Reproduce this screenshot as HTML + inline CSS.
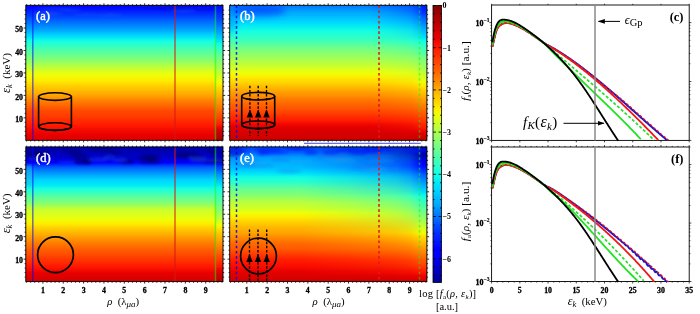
<!DOCTYPE html><html><head><meta charset="utf-8"><style>html,body{margin:0;padding:0;background:#fff;width:700px;height:314px;overflow:hidden}svg{display:block}text{font-family:"Liberation Serif",serif}.i{font-style:italic}</style></head><body><svg width="700" height="314" viewBox="0 0 700 314"><defs><linearGradient id="ga" x1="0" y1="0" x2="0" y2="1"><stop offset="0.000" stop-color="#0004ff"/><stop offset="0.015" stop-color="#0008ff"/><stop offset="0.030" stop-color="#0010ff"/><stop offset="0.044" stop-color="#0020ff"/><stop offset="0.059" stop-color="#002cff"/><stop offset="0.074" stop-color="#0038ff"/><stop offset="0.089" stop-color="#0048ff"/><stop offset="0.104" stop-color="#0058ff"/><stop offset="0.119" stop-color="#0068ff"/><stop offset="0.133" stop-color="#0074ff"/><stop offset="0.148" stop-color="#0084ff"/><stop offset="0.163" stop-color="#0090ff"/><stop offset="0.178" stop-color="#00a0ff"/><stop offset="0.193" stop-color="#00b0ff"/><stop offset="0.207" stop-color="#00c4ff"/><stop offset="0.222" stop-color="#00d4ff"/><stop offset="0.237" stop-color="#00e4f8"/><stop offset="0.252" stop-color="#0cf4eb"/><stop offset="0.267" stop-color="#16ffe1"/><stop offset="0.281" stop-color="#23ffd4"/><stop offset="0.296" stop-color="#2cffca"/><stop offset="0.311" stop-color="#3cffba"/><stop offset="0.326" stop-color="#49ffad"/><stop offset="0.341" stop-color="#56ffa0"/><stop offset="0.356" stop-color="#5dff9a"/><stop offset="0.370" stop-color="#6aff8d"/><stop offset="0.385" stop-color="#77ff80"/><stop offset="0.400" stop-color="#83ff73"/><stop offset="0.415" stop-color="#90ff66"/><stop offset="0.430" stop-color="#a0ff56"/><stop offset="0.444" stop-color="#adff49"/><stop offset="0.459" stop-color="#beff39"/><stop offset="0.474" stop-color="#caff2c"/><stop offset="0.489" stop-color="#dbff1c"/><stop offset="0.504" stop-color="#e7ff0f"/><stop offset="0.519" stop-color="#eeff09"/><stop offset="0.533" stop-color="#f4f802"/><stop offset="0.548" stop-color="#fbf100"/><stop offset="0.563" stop-color="#ffea00"/><stop offset="0.578" stop-color="#ffde00"/><stop offset="0.593" stop-color="#ffd300"/><stop offset="0.607" stop-color="#ffc800"/><stop offset="0.622" stop-color="#ffc100"/><stop offset="0.637" stop-color="#ffb600"/><stop offset="0.652" stop-color="#ffae00"/><stop offset="0.667" stop-color="#ffa300"/><stop offset="0.681" stop-color="#ff9800"/><stop offset="0.696" stop-color="#ff8900"/><stop offset="0.711" stop-color="#ff7e00"/><stop offset="0.726" stop-color="#ff7300"/><stop offset="0.741" stop-color="#ff6800"/><stop offset="0.756" stop-color="#ff5d00"/><stop offset="0.770" stop-color="#ff5200"/><stop offset="0.785" stop-color="#ff4700"/><stop offset="0.800" stop-color="#ff4300"/><stop offset="0.815" stop-color="#ff3f00"/><stop offset="0.830" stop-color="#ff3800"/><stop offset="0.844" stop-color="#ff3000"/><stop offset="0.859" stop-color="#ff2900"/><stop offset="0.874" stop-color="#ff2200"/><stop offset="0.889" stop-color="#ff1a00"/><stop offset="0.904" stop-color="#ff1300"/><stop offset="0.919" stop-color="#f60b00"/><stop offset="0.933" stop-color="#f10800"/><stop offset="0.948" stop-color="#ed0400"/><stop offset="0.963" stop-color="#e80000"/><stop offset="0.978" stop-color="#e40000"/><stop offset="0.993" stop-color="#e40000"/></linearGradient><linearGradient id="gb" x1="0" y1="0" x2="0" y2="1"><stop offset="0.000" stop-color="#007cff"/><stop offset="0.015" stop-color="#0084ff"/><stop offset="0.030" stop-color="#0094ff"/><stop offset="0.044" stop-color="#00a0ff"/><stop offset="0.059" stop-color="#00acff"/><stop offset="0.074" stop-color="#00b4ff"/><stop offset="0.089" stop-color="#00c0ff"/><stop offset="0.104" stop-color="#00c8ff"/><stop offset="0.119" stop-color="#00d4ff"/><stop offset="0.133" stop-color="#00dcfe"/><stop offset="0.148" stop-color="#02e8f4"/><stop offset="0.163" stop-color="#09f0ee"/><stop offset="0.178" stop-color="#0ff8e7"/><stop offset="0.193" stop-color="#16ffe1"/><stop offset="0.207" stop-color="#1fffd7"/><stop offset="0.222" stop-color="#26ffd1"/><stop offset="0.237" stop-color="#30ffc7"/><stop offset="0.252" stop-color="#36ffc1"/><stop offset="0.267" stop-color="#43ffb4"/><stop offset="0.281" stop-color="#50ffa7"/><stop offset="0.296" stop-color="#5dff9a"/><stop offset="0.311" stop-color="#6aff8d"/><stop offset="0.326" stop-color="#77ff80"/><stop offset="0.341" stop-color="#80ff77"/><stop offset="0.356" stop-color="#8aff6d"/><stop offset="0.370" stop-color="#94ff63"/><stop offset="0.385" stop-color="#9dff5a"/><stop offset="0.400" stop-color="#a7ff50"/><stop offset="0.415" stop-color="#b1ff46"/><stop offset="0.430" stop-color="#baff3c"/><stop offset="0.444" stop-color="#c4ff33"/><stop offset="0.459" stop-color="#d1ff26"/><stop offset="0.474" stop-color="#deff19"/><stop offset="0.489" stop-color="#e4ff13"/><stop offset="0.504" stop-color="#eeff09"/><stop offset="0.519" stop-color="#f8f500"/><stop offset="0.533" stop-color="#feed00"/><stop offset="0.548" stop-color="#ffe200"/><stop offset="0.563" stop-color="#ffdb00"/><stop offset="0.578" stop-color="#ffd000"/><stop offset="0.593" stop-color="#ffc400"/><stop offset="0.607" stop-color="#ffb900"/><stop offset="0.622" stop-color="#ffae00"/><stop offset="0.637" stop-color="#ffa300"/><stop offset="0.652" stop-color="#ff9800"/><stop offset="0.667" stop-color="#ff9100"/><stop offset="0.681" stop-color="#ff8600"/><stop offset="0.696" stop-color="#ff7a00"/><stop offset="0.711" stop-color="#ff7300"/><stop offset="0.726" stop-color="#ff6800"/><stop offset="0.741" stop-color="#ff6000"/><stop offset="0.756" stop-color="#ff5900"/><stop offset="0.770" stop-color="#ff5200"/><stop offset="0.785" stop-color="#ff4700"/><stop offset="0.800" stop-color="#ff3f00"/><stop offset="0.815" stop-color="#ff3400"/><stop offset="0.830" stop-color="#ff2900"/><stop offset="0.844" stop-color="#ff2200"/><stop offset="0.859" stop-color="#ff1600"/><stop offset="0.874" stop-color="#f60b00"/><stop offset="0.889" stop-color="#ed0400"/><stop offset="0.904" stop-color="#e40000"/><stop offset="0.919" stop-color="#df0000"/><stop offset="0.933" stop-color="#da0000"/><stop offset="0.948" stop-color="#d60000"/><stop offset="0.963" stop-color="#d60000"/><stop offset="0.978" stop-color="#d10000"/><stop offset="0.993" stop-color="#d10000"/></linearGradient><linearGradient id="gd" x1="0" y1="0" x2="0" y2="1"><stop offset="0.000" stop-color="#0000ad"/><stop offset="0.015" stop-color="#0000ad"/><stop offset="0.030" stop-color="#0000b2"/><stop offset="0.045" stop-color="#0000bb"/><stop offset="0.059" stop-color="#0000bf"/><stop offset="0.074" stop-color="#0000c8"/><stop offset="0.089" stop-color="#0000d6"/><stop offset="0.104" stop-color="#0000e8"/><stop offset="0.119" stop-color="#0000ff"/><stop offset="0.134" stop-color="#0030ff"/><stop offset="0.148" stop-color="#0054ff"/><stop offset="0.163" stop-color="#006cff"/><stop offset="0.178" stop-color="#0080ff"/><stop offset="0.193" stop-color="#0094ff"/><stop offset="0.208" stop-color="#00a8ff"/><stop offset="0.223" stop-color="#00b8ff"/><stop offset="0.238" stop-color="#00ccff"/><stop offset="0.252" stop-color="#00d8ff"/><stop offset="0.267" stop-color="#00e0fb"/><stop offset="0.282" stop-color="#02e8f4"/><stop offset="0.297" stop-color="#0cf4eb"/><stop offset="0.312" stop-color="#19ffde"/><stop offset="0.327" stop-color="#29ffce"/><stop offset="0.341" stop-color="#39ffbe"/><stop offset="0.356" stop-color="#49ffad"/><stop offset="0.371" stop-color="#5aff9d"/><stop offset="0.386" stop-color="#6aff8d"/><stop offset="0.401" stop-color="#73ff83"/><stop offset="0.416" stop-color="#83ff73"/><stop offset="0.431" stop-color="#9aff5d"/><stop offset="0.445" stop-color="#adff49"/><stop offset="0.460" stop-color="#c4ff33"/><stop offset="0.475" stop-color="#d1ff26"/><stop offset="0.490" stop-color="#d4ff23"/><stop offset="0.505" stop-color="#dbff1c"/><stop offset="0.520" stop-color="#e4ff13"/><stop offset="0.535" stop-color="#ebff0c"/><stop offset="0.549" stop-color="#f4f802"/><stop offset="0.564" stop-color="#fbf100"/><stop offset="0.579" stop-color="#ffe600"/><stop offset="0.594" stop-color="#ffd700"/><stop offset="0.609" stop-color="#ffcc00"/><stop offset="0.624" stop-color="#ffc100"/><stop offset="0.638" stop-color="#ffb600"/><stop offset="0.653" stop-color="#ffab00"/><stop offset="0.668" stop-color="#ff9f00"/><stop offset="0.683" stop-color="#ff9400"/><stop offset="0.698" stop-color="#ff8900"/><stop offset="0.713" stop-color="#ff7e00"/><stop offset="0.728" stop-color="#ff7300"/><stop offset="0.742" stop-color="#ff6c00"/><stop offset="0.757" stop-color="#ff6000"/><stop offset="0.772" stop-color="#ff5900"/><stop offset="0.787" stop-color="#ff5200"/><stop offset="0.802" stop-color="#ff4a00"/><stop offset="0.817" stop-color="#ff3f00"/><stop offset="0.831" stop-color="#ff3800"/><stop offset="0.846" stop-color="#ff3000"/><stop offset="0.861" stop-color="#ff2900"/><stop offset="0.876" stop-color="#ff1e00"/><stop offset="0.891" stop-color="#ff1600"/><stop offset="0.906" stop-color="#fa0f00"/><stop offset="0.921" stop-color="#f10800"/><stop offset="0.935" stop-color="#e80000"/><stop offset="0.950" stop-color="#e40000"/><stop offset="0.965" stop-color="#df0000"/><stop offset="0.980" stop-color="#da0000"/><stop offset="0.995" stop-color="#d60000"/></linearGradient><linearGradient id="ge" x1="0" y1="0" x2="0" y2="1"><stop offset="0.000" stop-color="#004cff"/><stop offset="0.015" stop-color="#0054ff"/><stop offset="0.030" stop-color="#0060ff"/><stop offset="0.045" stop-color="#006cff"/><stop offset="0.059" stop-color="#0080ff"/><stop offset="0.074" stop-color="#0098ff"/><stop offset="0.089" stop-color="#00a4ff"/><stop offset="0.104" stop-color="#00a8ff"/><stop offset="0.119" stop-color="#00b0ff"/><stop offset="0.134" stop-color="#00b4ff"/><stop offset="0.148" stop-color="#00b8ff"/><stop offset="0.163" stop-color="#00c4ff"/><stop offset="0.178" stop-color="#00d0ff"/><stop offset="0.193" stop-color="#00e0fb"/><stop offset="0.208" stop-color="#06ecf1"/><stop offset="0.223" stop-color="#13fce4"/><stop offset="0.238" stop-color="#1cffdb"/><stop offset="0.252" stop-color="#23ffd4"/><stop offset="0.267" stop-color="#30ffc7"/><stop offset="0.282" stop-color="#43ffb4"/><stop offset="0.297" stop-color="#53ffa4"/><stop offset="0.312" stop-color="#63ff94"/><stop offset="0.327" stop-color="#70ff87"/><stop offset="0.341" stop-color="#77ff80"/><stop offset="0.356" stop-color="#83ff73"/><stop offset="0.371" stop-color="#94ff63"/><stop offset="0.386" stop-color="#a0ff56"/><stop offset="0.401" stop-color="#b1ff46"/><stop offset="0.416" stop-color="#beff39"/><stop offset="0.431" stop-color="#c4ff33"/><stop offset="0.445" stop-color="#caff2c"/><stop offset="0.460" stop-color="#d7ff1f"/><stop offset="0.475" stop-color="#e1ff16"/><stop offset="0.490" stop-color="#eeff09"/><stop offset="0.505" stop-color="#f8f500"/><stop offset="0.520" stop-color="#feed00"/><stop offset="0.535" stop-color="#ffe200"/><stop offset="0.549" stop-color="#ffd700"/><stop offset="0.564" stop-color="#ffcc00"/><stop offset="0.579" stop-color="#ffc400"/><stop offset="0.594" stop-color="#ffb900"/><stop offset="0.609" stop-color="#ffb200"/><stop offset="0.624" stop-color="#ffab00"/><stop offset="0.638" stop-color="#ffa300"/><stop offset="0.653" stop-color="#ff9800"/><stop offset="0.668" stop-color="#ff8d00"/><stop offset="0.683" stop-color="#ff8200"/><stop offset="0.698" stop-color="#ff7700"/><stop offset="0.713" stop-color="#ff6c00"/><stop offset="0.728" stop-color="#ff6400"/><stop offset="0.742" stop-color="#ff6000"/><stop offset="0.757" stop-color="#ff5900"/><stop offset="0.772" stop-color="#ff4e00"/><stop offset="0.787" stop-color="#ff4300"/><stop offset="0.802" stop-color="#ff3800"/><stop offset="0.817" stop-color="#ff2d00"/><stop offset="0.831" stop-color="#ff2200"/><stop offset="0.846" stop-color="#ff1a00"/><stop offset="0.861" stop-color="#ff1300"/><stop offset="0.876" stop-color="#fa0f00"/><stop offset="0.891" stop-color="#f60b00"/><stop offset="0.906" stop-color="#f10800"/><stop offset="0.921" stop-color="#e80000"/><stop offset="0.935" stop-color="#e40000"/><stop offset="0.950" stop-color="#df0000"/><stop offset="0.965" stop-color="#da0000"/><stop offset="0.980" stop-color="#d60000"/><stop offset="0.995" stop-color="#d10000"/></linearGradient><linearGradient id="ha" x1="0" y1="0" x2="0" y2="1"><stop offset="0.000" stop-color="#0004ff"/><stop offset="0.015" stop-color="#0010ff"/><stop offset="0.030" stop-color="#0018ff"/><stop offset="0.044" stop-color="#0020ff"/><stop offset="0.059" stop-color="#002cff"/><stop offset="0.074" stop-color="#0034ff"/><stop offset="0.089" stop-color="#003cff"/><stop offset="0.104" stop-color="#0048ff"/><stop offset="0.119" stop-color="#0054ff"/><stop offset="0.133" stop-color="#0064ff"/><stop offset="0.148" stop-color="#0070ff"/><stop offset="0.163" stop-color="#0080ff"/><stop offset="0.178" stop-color="#008cff"/><stop offset="0.193" stop-color="#009cff"/><stop offset="0.207" stop-color="#00acff"/><stop offset="0.222" stop-color="#00bcff"/><stop offset="0.237" stop-color="#00c8ff"/><stop offset="0.252" stop-color="#00d8ff"/><stop offset="0.267" stop-color="#02e8f4"/><stop offset="0.281" stop-color="#0ff8e7"/><stop offset="0.296" stop-color="#19ffde"/><stop offset="0.311" stop-color="#26ffd1"/><stop offset="0.326" stop-color="#36ffc1"/><stop offset="0.341" stop-color="#43ffb4"/><stop offset="0.356" stop-color="#50ffa7"/><stop offset="0.370" stop-color="#5dff9a"/><stop offset="0.385" stop-color="#6aff8d"/><stop offset="0.400" stop-color="#77ff80"/><stop offset="0.415" stop-color="#83ff73"/><stop offset="0.430" stop-color="#8dff6a"/><stop offset="0.444" stop-color="#9aff5d"/><stop offset="0.459" stop-color="#a4ff53"/><stop offset="0.474" stop-color="#adff49"/><stop offset="0.489" stop-color="#baff3c"/><stop offset="0.504" stop-color="#c4ff33"/><stop offset="0.519" stop-color="#d1ff26"/><stop offset="0.533" stop-color="#dbff1c"/><stop offset="0.548" stop-color="#e4ff13"/><stop offset="0.563" stop-color="#eeff09"/><stop offset="0.578" stop-color="#f8f500"/><stop offset="0.593" stop-color="#ffea00"/><stop offset="0.607" stop-color="#ffde00"/><stop offset="0.622" stop-color="#ffd300"/><stop offset="0.637" stop-color="#ffc800"/><stop offset="0.652" stop-color="#ffbd00"/><stop offset="0.667" stop-color="#ffb600"/><stop offset="0.681" stop-color="#ffab00"/><stop offset="0.696" stop-color="#ff9f00"/><stop offset="0.711" stop-color="#ff9400"/><stop offset="0.726" stop-color="#ff8d00"/><stop offset="0.741" stop-color="#ff8200"/><stop offset="0.756" stop-color="#ff7700"/><stop offset="0.770" stop-color="#ff6f00"/><stop offset="0.785" stop-color="#ff6400"/><stop offset="0.800" stop-color="#ff5900"/><stop offset="0.815" stop-color="#ff4e00"/><stop offset="0.830" stop-color="#ff4700"/><stop offset="0.844" stop-color="#ff3b00"/><stop offset="0.859" stop-color="#ff2d00"/><stop offset="0.874" stop-color="#ff2200"/><stop offset="0.889" stop-color="#ff1300"/><stop offset="0.904" stop-color="#ed0400"/><stop offset="0.919" stop-color="#da0000"/><stop offset="0.933" stop-color="#c80000"/><stop offset="0.948" stop-color="#bf0000"/><stop offset="0.963" stop-color="#bb0000"/><stop offset="0.978" stop-color="#b60000"/><stop offset="0.993" stop-color="#ad0000"/></linearGradient><linearGradient id="hb" x1="0" y1="0" x2="0" y2="1"><stop offset="0.000" stop-color="#0018ff"/><stop offset="0.015" stop-color="#001cff"/><stop offset="0.030" stop-color="#0024ff"/><stop offset="0.044" stop-color="#0028ff"/><stop offset="0.059" stop-color="#0038ff"/><stop offset="0.074" stop-color="#0048ff"/><stop offset="0.089" stop-color="#0058ff"/><stop offset="0.104" stop-color="#0068ff"/><stop offset="0.119" stop-color="#0078ff"/><stop offset="0.133" stop-color="#0084ff"/><stop offset="0.148" stop-color="#0094ff"/><stop offset="0.163" stop-color="#00a0ff"/><stop offset="0.178" stop-color="#00b0ff"/><stop offset="0.193" stop-color="#00bcff"/><stop offset="0.207" stop-color="#00c8ff"/><stop offset="0.222" stop-color="#00d4ff"/><stop offset="0.237" stop-color="#00e0fb"/><stop offset="0.252" stop-color="#09f0ee"/><stop offset="0.267" stop-color="#13fce4"/><stop offset="0.281" stop-color="#1cffdb"/><stop offset="0.296" stop-color="#29ffce"/><stop offset="0.311" stop-color="#36ffc1"/><stop offset="0.326" stop-color="#40ffb7"/><stop offset="0.341" stop-color="#4dffaa"/><stop offset="0.356" stop-color="#56ffa0"/><stop offset="0.370" stop-color="#63ff94"/><stop offset="0.385" stop-color="#70ff87"/><stop offset="0.400" stop-color="#7aff7d"/><stop offset="0.415" stop-color="#83ff73"/><stop offset="0.430" stop-color="#8dff6a"/><stop offset="0.444" stop-color="#97ff60"/><stop offset="0.459" stop-color="#a0ff56"/><stop offset="0.474" stop-color="#adff49"/><stop offset="0.489" stop-color="#b7ff40"/><stop offset="0.504" stop-color="#c1ff36"/><stop offset="0.519" stop-color="#caff2c"/><stop offset="0.533" stop-color="#d4ff23"/><stop offset="0.548" stop-color="#deff19"/><stop offset="0.563" stop-color="#ebff0c"/><stop offset="0.578" stop-color="#f4f802"/><stop offset="0.593" stop-color="#feed00"/><stop offset="0.607" stop-color="#ffe200"/><stop offset="0.622" stop-color="#ffd700"/><stop offset="0.637" stop-color="#ffc800"/><stop offset="0.652" stop-color="#ffc100"/><stop offset="0.667" stop-color="#ffb600"/><stop offset="0.681" stop-color="#ffab00"/><stop offset="0.696" stop-color="#ff9f00"/><stop offset="0.711" stop-color="#ff9800"/><stop offset="0.726" stop-color="#ff8d00"/><stop offset="0.741" stop-color="#ff8200"/><stop offset="0.756" stop-color="#ff7a00"/><stop offset="0.770" stop-color="#ff6f00"/><stop offset="0.785" stop-color="#ff6400"/><stop offset="0.800" stop-color="#ff5d00"/><stop offset="0.815" stop-color="#ff5200"/><stop offset="0.830" stop-color="#ff4a00"/><stop offset="0.844" stop-color="#ff3f00"/><stop offset="0.859" stop-color="#ff3800"/><stop offset="0.874" stop-color="#ff2d00"/><stop offset="0.889" stop-color="#ff2200"/><stop offset="0.904" stop-color="#ff1a00"/><stop offset="0.919" stop-color="#fa0f00"/><stop offset="0.933" stop-color="#ed0400"/><stop offset="0.948" stop-color="#df0000"/><stop offset="0.963" stop-color="#d60000"/><stop offset="0.978" stop-color="#cd0000"/><stop offset="0.993" stop-color="#c80000"/></linearGradient><linearGradient id="hd" x1="0" y1="0" x2="0" y2="1"><stop offset="0.000" stop-color="#0000bb"/><stop offset="0.015" stop-color="#0000bf"/><stop offset="0.030" stop-color="#0000c4"/><stop offset="0.045" stop-color="#0000c8"/><stop offset="0.059" stop-color="#0000cd"/><stop offset="0.074" stop-color="#0000e3"/><stop offset="0.089" stop-color="#0000f6"/><stop offset="0.104" stop-color="#0000ff"/><stop offset="0.119" stop-color="#000cff"/><stop offset="0.134" stop-color="#0020ff"/><stop offset="0.148" stop-color="#0038ff"/><stop offset="0.163" stop-color="#0050ff"/><stop offset="0.178" stop-color="#0064ff"/><stop offset="0.193" stop-color="#007cff"/><stop offset="0.208" stop-color="#0090ff"/><stop offset="0.223" stop-color="#00a4ff"/><stop offset="0.238" stop-color="#00b4ff"/><stop offset="0.252" stop-color="#00c4ff"/><stop offset="0.267" stop-color="#00d4ff"/><stop offset="0.282" stop-color="#00e4f8"/><stop offset="0.297" stop-color="#0cf4eb"/><stop offset="0.312" stop-color="#16ffe1"/><stop offset="0.327" stop-color="#23ffd4"/><stop offset="0.341" stop-color="#2cffca"/><stop offset="0.356" stop-color="#36ffc1"/><stop offset="0.371" stop-color="#43ffb4"/><stop offset="0.386" stop-color="#4dffaa"/><stop offset="0.401" stop-color="#56ffa0"/><stop offset="0.416" stop-color="#63ff94"/><stop offset="0.431" stop-color="#6dff8a"/><stop offset="0.445" stop-color="#7aff7d"/><stop offset="0.460" stop-color="#83ff73"/><stop offset="0.475" stop-color="#90ff66"/><stop offset="0.490" stop-color="#9aff5d"/><stop offset="0.505" stop-color="#a7ff50"/><stop offset="0.520" stop-color="#b4ff43"/><stop offset="0.535" stop-color="#c1ff36"/><stop offset="0.549" stop-color="#d1ff26"/><stop offset="0.564" stop-color="#deff19"/><stop offset="0.579" stop-color="#ebff0c"/><stop offset="0.594" stop-color="#fbf100"/><stop offset="0.609" stop-color="#ffe200"/><stop offset="0.624" stop-color="#ffd300"/><stop offset="0.638" stop-color="#ffc800"/><stop offset="0.653" stop-color="#ffbd00"/><stop offset="0.668" stop-color="#ffb200"/><stop offset="0.683" stop-color="#ffab00"/><stop offset="0.698" stop-color="#ff9f00"/><stop offset="0.713" stop-color="#ff9400"/><stop offset="0.728" stop-color="#ff8900"/><stop offset="0.742" stop-color="#ff7e00"/><stop offset="0.757" stop-color="#ff7300"/><stop offset="0.772" stop-color="#ff6800"/><stop offset="0.787" stop-color="#ff5d00"/><stop offset="0.802" stop-color="#ff5200"/><stop offset="0.817" stop-color="#ff4700"/><stop offset="0.831" stop-color="#ff3f00"/><stop offset="0.846" stop-color="#ff3400"/><stop offset="0.861" stop-color="#ff2900"/><stop offset="0.876" stop-color="#ff1e00"/><stop offset="0.891" stop-color="#ff1300"/><stop offset="0.906" stop-color="#f10800"/><stop offset="0.921" stop-color="#e40000"/><stop offset="0.935" stop-color="#d60000"/><stop offset="0.950" stop-color="#cd0000"/><stop offset="0.965" stop-color="#c80000"/><stop offset="0.980" stop-color="#bf0000"/><stop offset="0.995" stop-color="#bb0000"/></linearGradient><linearGradient id="he" x1="0" y1="0" x2="0" y2="1"><stop offset="0.000" stop-color="#0000ad"/><stop offset="0.015" stop-color="#0000ad"/><stop offset="0.030" stop-color="#0000ad"/><stop offset="0.045" stop-color="#0000b2"/><stop offset="0.059" stop-color="#0000b2"/><stop offset="0.074" stop-color="#0000bb"/><stop offset="0.089" stop-color="#0000cd"/><stop offset="0.104" stop-color="#0000df"/><stop offset="0.119" stop-color="#0000f6"/><stop offset="0.134" stop-color="#0000ff"/><stop offset="0.148" stop-color="#000cff"/><stop offset="0.163" stop-color="#0020ff"/><stop offset="0.178" stop-color="#0034ff"/><stop offset="0.193" stop-color="#0048ff"/><stop offset="0.208" stop-color="#0060ff"/><stop offset="0.223" stop-color="#006cff"/><stop offset="0.238" stop-color="#007cff"/><stop offset="0.252" stop-color="#008cff"/><stop offset="0.267" stop-color="#009cff"/><stop offset="0.282" stop-color="#00a8ff"/><stop offset="0.297" stop-color="#00b8ff"/><stop offset="0.312" stop-color="#00c8ff"/><stop offset="0.327" stop-color="#00d4ff"/><stop offset="0.341" stop-color="#00e4f8"/><stop offset="0.356" stop-color="#0cf4eb"/><stop offset="0.371" stop-color="#16ffe1"/><stop offset="0.386" stop-color="#23ffd4"/><stop offset="0.401" stop-color="#2cffca"/><stop offset="0.416" stop-color="#39ffbe"/><stop offset="0.431" stop-color="#46ffb1"/><stop offset="0.445" stop-color="#50ffa7"/><stop offset="0.460" stop-color="#5dff9a"/><stop offset="0.475" stop-color="#66ff90"/><stop offset="0.490" stop-color="#73ff83"/><stop offset="0.505" stop-color="#7dff7a"/><stop offset="0.520" stop-color="#8aff6d"/><stop offset="0.535" stop-color="#97ff60"/><stop offset="0.549" stop-color="#a4ff53"/><stop offset="0.564" stop-color="#b1ff46"/><stop offset="0.579" stop-color="#beff39"/><stop offset="0.594" stop-color="#caff2c"/><stop offset="0.609" stop-color="#d7ff1f"/><stop offset="0.624" stop-color="#e4ff13"/><stop offset="0.638" stop-color="#f1fc06"/><stop offset="0.653" stop-color="#feed00"/><stop offset="0.668" stop-color="#ffde00"/><stop offset="0.683" stop-color="#ffd300"/><stop offset="0.698" stop-color="#ffc800"/><stop offset="0.713" stop-color="#ffbd00"/><stop offset="0.728" stop-color="#ffb200"/><stop offset="0.742" stop-color="#ffa300"/><stop offset="0.757" stop-color="#ff9800"/><stop offset="0.772" stop-color="#ff8d00"/><stop offset="0.787" stop-color="#ff8200"/><stop offset="0.802" stop-color="#ff7700"/><stop offset="0.817" stop-color="#ff6c00"/><stop offset="0.831" stop-color="#ff6000"/><stop offset="0.846" stop-color="#ff5500"/><stop offset="0.861" stop-color="#ff4e00"/><stop offset="0.876" stop-color="#ff4300"/><stop offset="0.891" stop-color="#ff3800"/><stop offset="0.906" stop-color="#ff2900"/><stop offset="0.921" stop-color="#ff1e00"/><stop offset="0.935" stop-color="#ff1300"/><stop offset="0.950" stop-color="#f10800"/><stop offset="0.965" stop-color="#e80000"/><stop offset="0.980" stop-color="#df0000"/><stop offset="0.995" stop-color="#d60000"/></linearGradient><linearGradient id="rb" x1="0" y1="0" x2="1" y2="0"><stop offset="0.000" stop-color="#fff" stop-opacity="0.00"/><stop offset="0.474" stop-color="#fff" stop-opacity="0.24"/><stop offset="0.719" stop-color="#fff" stop-opacity="0.40"/><stop offset="0.842" stop-color="#fff" stop-opacity="0.65"/><stop offset="0.930" stop-color="#fff" stop-opacity="1.00"/><stop offset="1.000" stop-color="#fff" stop-opacity="1.00"/></linearGradient><mask id="mrb" maskContentUnits="objectBoundingBox"><rect x="0" y="0" width="1" height="1" fill="url(#rb)"/></mask><linearGradient id="re" x1="0" y1="0" x2="1" y2="0"><stop offset="0.000" stop-color="#fff" stop-opacity="0.00"/><stop offset="0.402" stop-color="#fff" stop-opacity="0.20"/><stop offset="0.638" stop-color="#fff" stop-opacity="0.35"/><stop offset="0.756" stop-color="#fff" stop-opacity="0.45"/><stop offset="0.866" stop-color="#fff" stop-opacity="0.62"/><stop offset="0.929" stop-color="#fff" stop-opacity="0.85"/><stop offset="0.969" stop-color="#fff" stop-opacity="1.00"/><stop offset="1.000" stop-color="#fff" stop-opacity="1.00"/></linearGradient><mask id="mre" maskContentUnits="objectBoundingBox"><rect x="0" y="0" width="1" height="1" fill="url(#re)"/></mask><linearGradient id="gcb" x1="0" y1="0" x2="0" y2="1"><stop offset="0.000" stop-color="#800000"/><stop offset="0.011" stop-color="#890000"/><stop offset="0.022" stop-color="#960000"/><stop offset="0.032" stop-color="#9f0000"/><stop offset="0.043" stop-color="#a80000"/><stop offset="0.054" stop-color="#b20000"/><stop offset="0.065" stop-color="#bb0000"/><stop offset="0.076" stop-color="#c40000"/><stop offset="0.087" stop-color="#cd0000"/><stop offset="0.097" stop-color="#d60000"/><stop offset="0.108" stop-color="#df0000"/><stop offset="0.119" stop-color="#e80000"/><stop offset="0.130" stop-color="#f10800"/><stop offset="0.141" stop-color="#fa0f00"/><stop offset="0.152" stop-color="#ff1600"/><stop offset="0.162" stop-color="#ff2200"/><stop offset="0.173" stop-color="#ff2900"/><stop offset="0.184" stop-color="#ff3400"/><stop offset="0.195" stop-color="#ff3f00"/><stop offset="0.206" stop-color="#ff4700"/><stop offset="0.217" stop-color="#ff5200"/><stop offset="0.227" stop-color="#ff5900"/><stop offset="0.238" stop-color="#ff6400"/><stop offset="0.249" stop-color="#ff6f00"/><stop offset="0.260" stop-color="#ff7a00"/><stop offset="0.271" stop-color="#ff8600"/><stop offset="0.282" stop-color="#ff9100"/><stop offset="0.292" stop-color="#ff9c00"/><stop offset="0.303" stop-color="#ffab00"/><stop offset="0.314" stop-color="#ffb600"/><stop offset="0.325" stop-color="#ffc100"/><stop offset="0.336" stop-color="#ffcc00"/><stop offset="0.347" stop-color="#ffd300"/><stop offset="0.357" stop-color="#ffde00"/><stop offset="0.368" stop-color="#ffea00"/><stop offset="0.379" stop-color="#fbf100"/><stop offset="0.390" stop-color="#f1fc06"/><stop offset="0.401" stop-color="#e7ff0f"/><stop offset="0.412" stop-color="#deff19"/><stop offset="0.422" stop-color="#d1ff26"/><stop offset="0.433" stop-color="#c4ff33"/><stop offset="0.444" stop-color="#b7ff40"/><stop offset="0.455" stop-color="#adff49"/><stop offset="0.466" stop-color="#a0ff56"/><stop offset="0.477" stop-color="#94ff63"/><stop offset="0.487" stop-color="#8aff6d"/><stop offset="0.498" stop-color="#7dff7a"/><stop offset="0.509" stop-color="#73ff83"/><stop offset="0.520" stop-color="#6aff8d"/><stop offset="0.531" stop-color="#5dff9a"/><stop offset="0.542" stop-color="#53ffa4"/><stop offset="0.552" stop-color="#49ffad"/><stop offset="0.563" stop-color="#3cffba"/><stop offset="0.574" stop-color="#33ffc4"/><stop offset="0.585" stop-color="#29ffce"/><stop offset="0.596" stop-color="#1fffd7"/><stop offset="0.606" stop-color="#16ffe1"/><stop offset="0.617" stop-color="#0ff8e7"/><stop offset="0.628" stop-color="#09f0ee"/><stop offset="0.639" stop-color="#02e8f4"/><stop offset="0.650" stop-color="#00e0fb"/><stop offset="0.661" stop-color="#00d8ff"/><stop offset="0.671" stop-color="#00d0ff"/><stop offset="0.682" stop-color="#00c8ff"/><stop offset="0.693" stop-color="#00bcff"/><stop offset="0.704" stop-color="#00b4ff"/><stop offset="0.715" stop-color="#00acff"/><stop offset="0.726" stop-color="#00a0ff"/><stop offset="0.736" stop-color="#0090ff"/><stop offset="0.747" stop-color="#0084ff"/><stop offset="0.758" stop-color="#0078ff"/><stop offset="0.769" stop-color="#006cff"/><stop offset="0.780" stop-color="#0060ff"/><stop offset="0.791" stop-color="#0050ff"/><stop offset="0.801" stop-color="#0044ff"/><stop offset="0.812" stop-color="#0038ff"/><stop offset="0.823" stop-color="#002cff"/><stop offset="0.834" stop-color="#0024ff"/><stop offset="0.845" stop-color="#001cff"/><stop offset="0.856" stop-color="#0014ff"/><stop offset="0.866" stop-color="#000cff"/><stop offset="0.877" stop-color="#0000ff"/><stop offset="0.888" stop-color="#0000ff"/><stop offset="0.899" stop-color="#0000ff"/><stop offset="0.910" stop-color="#0000f6"/><stop offset="0.921" stop-color="#0000ed"/><stop offset="0.931" stop-color="#0000df"/><stop offset="0.942" stop-color="#0000d1"/><stop offset="0.953" stop-color="#0000c4"/><stop offset="0.964" stop-color="#0000bb"/><stop offset="0.975" stop-color="#0000ad"/><stop offset="0.986" stop-color="#00009f"/><stop offset="0.996" stop-color="#00009b"/></linearGradient><marker id="ah" viewBox="0 0 10 10" refX="9" refY="5" markerWidth="7" markerHeight="7" markerUnits="userSpaceOnUse" orient="auto"><path d="M0 1.5L10 5L0 8.5z" fill="#000"/></marker></defs><rect x="25.8" y="5.3" width="197.2" height="135.0" fill="url(#ga)"/><rect x="216" y="5.3" width="7.0" height="135.0" fill="url(#ha)"/><rect x="229.7" y="5.3" width="197.2" height="135.0" fill="url(#gb)"/><rect x="370" y="5.3" width="56.9" height="135.0" fill="url(#hb)" mask="url(#mrb)"/><rect x="25.8" y="146.9" width="197.2" height="134.7" fill="url(#gd)"/><rect x="216" y="146.9" width="7.0" height="134.7" fill="url(#hd)"/><rect x="229.7" y="146.9" width="197.2" height="134.7" fill="url(#ge)"/><rect x="300" y="146.9" width="126.9" height="134.7" fill="url(#he)" mask="url(#mre)"/><filter id="bl" x="-50%" y="-50%" width="200%" height="200%"><feGaussianBlur stdDeviation="1.6"/></filter><filter id="bl2" x="-50%" y="-50%" width="200%" height="200%"><feGaussianBlur stdDeviation="3"/></filter><clipPath id="ca"><rect x="25.8" y="5.3" width="197.2" height="135.0"/></clipPath><clipPath id="cb"><rect x="229.7" y="5.3" width="197.2" height="135.0"/></clipPath><clipPath id="cd"><rect x="25.8" y="146.9" width="197.2" height="134.7"/></clipPath><clipPath id="ce"><rect x="229.7" y="146.9" width="197.2" height="134.7"/></clipPath><g clip-path="url(#cd)"><g filter="url(#bl)"><ellipse cx="150.0" cy="161.6" rx="11.2" ry="2.2" fill="#000070" opacity="0.60"/><ellipse cx="87.6" cy="161.2" rx="5.0" ry="3.2" fill="#000070" opacity="0.60"/><ellipse cx="183.0" cy="155.6" rx="7.4" ry="2.3" fill="#000070" opacity="0.60"/><ellipse cx="78.9" cy="155.2" rx="9.0" ry="2.7" fill="#000070" opacity="0.60"/><ellipse cx="221.1" cy="160.1" rx="10.0" ry="3.5" fill="#000070" opacity="0.60"/><ellipse cx="71.3" cy="151.2" rx="9.9" ry="1.9" fill="#000070" opacity="0.60"/><ellipse cx="36.9" cy="156.2" rx="8.7" ry="3.4" fill="#000070" opacity="0.60"/><ellipse cx="150.8" cy="156.2" rx="9.0" ry="2.2" fill="#000070" opacity="0.60"/><ellipse cx="32.3" cy="151.7" rx="10.5" ry="2.1" fill="#000070" opacity="0.60"/><ellipse cx="101.0" cy="149.1" rx="11.6" ry="2.1" fill="#000070" opacity="0.60"/><ellipse cx="81.4" cy="161.3" rx="9.1" ry="3.2" fill="#000070" opacity="0.60"/><ellipse cx="152.8" cy="159.4" rx="5.7" ry="2.7" fill="#000070" opacity="0.60"/><ellipse cx="127.5" cy="161.2" rx="7.9" ry="2.8" fill="#000070" opacity="0.60"/><ellipse cx="41.4" cy="154.4" rx="7.6" ry="2.1" fill="#000070" opacity="0.60"/><ellipse cx="186.7" cy="154.3" rx="12.8" ry="2.8" fill="#000070" opacity="0.60"/><ellipse cx="146.2" cy="157.9" rx="10.4" ry="2.1" fill="#000070" opacity="0.60"/><ellipse cx="114.5" cy="152.4" rx="8.2" ry="2.0" fill="#000070" opacity="0.60"/><ellipse cx="215.8" cy="152.0" rx="10.4" ry="2.3" fill="#000070" opacity="0.60"/><ellipse cx="197.8" cy="158.3" rx="6.1" ry="3.2" fill="#000070" opacity="0.60"/><ellipse cx="211.4" cy="161.7" rx="9.6" ry="2.0" fill="#000070" opacity="0.60"/><ellipse cx="67.0" cy="162.5" rx="9.3" ry="1.7" fill="#1a50f0" opacity="0.35"/><ellipse cx="199.7" cy="160.5" rx="9.4" ry="1.9" fill="#1a50f0" opacity="0.35"/><ellipse cx="108.9" cy="157.7" rx="6.2" ry="2.4" fill="#1a50f0" opacity="0.35"/><ellipse cx="119.8" cy="159.8" rx="7.9" ry="2.3" fill="#1a50f0" opacity="0.35"/><ellipse cx="34.8" cy="158.6" rx="6.2" ry="1.6" fill="#1a50f0" opacity="0.35"/><ellipse cx="215.7" cy="160.6" rx="8.6" ry="2.0" fill="#1a50f0" opacity="0.35"/><ellipse cx="197.6" cy="158.4" rx="9.5" ry="2.2" fill="#1a50f0" opacity="0.35"/><ellipse cx="98.2" cy="159.6" rx="10.6" ry="2.4" fill="#1a50f0" opacity="0.35"/><ellipse cx="29" cy="176" rx="5" ry="11" fill="#20b8f0" opacity="0.55"/></g></g><g clip-path="url(#ce)"><g filter="url(#bl)"><ellipse cx="234" cy="151" rx="10" ry="6" fill="#0010b8" opacity="0.6"/><ellipse cx="262.9" cy="152.6" rx="6.1" ry="2.6" fill="#0018f8" opacity="0.55"/><ellipse cx="384.9" cy="147.8" rx="10.2" ry="2.7" fill="#0018f8" opacity="0.55"/><ellipse cx="237.6" cy="150.8" rx="13.9" ry="2.3" fill="#0018f8" opacity="0.55"/><ellipse cx="369.3" cy="148.4" rx="8.0" ry="2.0" fill="#0018f8" opacity="0.55"/><ellipse cx="268.2" cy="149.1" rx="15.5" ry="2.4" fill="#0018f8" opacity="0.55"/><ellipse cx="297.9" cy="148.6" rx="15.5" ry="2.2" fill="#0018f8" opacity="0.55"/><ellipse cx="416.4" cy="150.1" rx="11.2" ry="2.8" fill="#0018f8" opacity="0.55"/><ellipse cx="372.4" cy="150.5" rx="10.3" ry="2.8" fill="#0018f8" opacity="0.55"/><ellipse cx="311.2" cy="152.5" rx="6.7" ry="2.1" fill="#0018f8" opacity="0.55"/><ellipse cx="331.1" cy="152.7" rx="8.5" ry="2.7" fill="#0018f8" opacity="0.55"/><ellipse cx="360.1" cy="151.3" rx="12.3" ry="3.0" fill="#0018f8" opacity="0.55"/><ellipse cx="296.5" cy="149.4" rx="8.0" ry="1.6" fill="#0018f8" opacity="0.55"/><ellipse cx="274.4" cy="152.5" rx="14.4" ry="1.7" fill="#0018f8" opacity="0.55"/><ellipse cx="346.7" cy="149.9" rx="11.9" ry="2.5" fill="#0018f8" opacity="0.55"/><ellipse cx="289.1" cy="171.3" rx="12.7" ry="2.0" fill="#1a70f0" opacity="0.35"/><ellipse cx="341.6" cy="158.1" rx="8.6" ry="1.7" fill="#1a70f0" opacity="0.35"/><ellipse cx="362.2" cy="168.9" rx="15.3" ry="1.3" fill="#1a70f0" opacity="0.35"/><ellipse cx="386.1" cy="168.6" rx="16.8" ry="1.9" fill="#1a70f0" opacity="0.35"/><ellipse cx="386.5" cy="155.8" rx="8.3" ry="1.2" fill="#1a70f0" opacity="0.35"/><ellipse cx="280.4" cy="159.2" rx="9.9" ry="1.9" fill="#1a70f0" opacity="0.35"/><ellipse cx="246.2" cy="165.0" rx="9.7" ry="2.1" fill="#1a70f0" opacity="0.35"/><ellipse cx="243.4" cy="160.3" rx="17.4" ry="1.9" fill="#1a70f0" opacity="0.35"/><ellipse cx="369.9" cy="166.2" rx="14.1" ry="1.4" fill="#1a70f0" opacity="0.35"/><ellipse cx="331.9" cy="155.7" rx="16.0" ry="2.4" fill="#1a70f0" opacity="0.35"/><ellipse cx="376.6" cy="155.9" rx="11.4" ry="1.6" fill="#1a70f0" opacity="0.35"/><ellipse cx="258.0" cy="165.7" rx="16.0" ry="1.6" fill="#1a70f0" opacity="0.35"/><ellipse cx="378.0" cy="169.2" rx="9.3" ry="2.2" fill="#20a8f0" opacity="0.25"/><ellipse cx="381.2" cy="160.8" rx="13.7" ry="2.0" fill="#20a8f0" opacity="0.25"/><ellipse cx="337.5" cy="159.3" rx="14.6" ry="2.0" fill="#20a8f0" opacity="0.25"/><ellipse cx="371.8" cy="169.2" rx="11.3" ry="2.1" fill="#20a8f0" opacity="0.25"/><ellipse cx="378.8" cy="170.5" rx="9.6" ry="1.2" fill="#20a8f0" opacity="0.25"/><ellipse cx="344.1" cy="161.0" rx="13.6" ry="2.4" fill="#20a8f0" opacity="0.25"/><ellipse cx="300.7" cy="161.5" rx="12.6" ry="2.1" fill="#20a8f0" opacity="0.25"/><ellipse cx="256.2" cy="163.3" rx="9.3" ry="2.1" fill="#20a8f0" opacity="0.25"/></g></g><g clip-path="url(#ca)"><g filter="url(#bl)"><ellipse cx="183.7" cy="11.0" rx="11.7" ry="1.7" fill="#1a5cf0" opacity="0.35"/><ellipse cx="69.8" cy="10.0" rx="11.3" ry="1.7" fill="#1a5cf0" opacity="0.35"/><ellipse cx="45.1" cy="14.0" rx="13.8" ry="1.5" fill="#1a5cf0" opacity="0.35"/><ellipse cx="44.3" cy="14.1" rx="9.3" ry="1.3" fill="#1a5cf0" opacity="0.35"/><ellipse cx="54.2" cy="8.7" rx="17.1" ry="1.5" fill="#1a5cf0" opacity="0.35"/><ellipse cx="86.7" cy="14.7" rx="14.2" ry="1.4" fill="#1a5cf0" opacity="0.35"/><ellipse cx="110.4" cy="15.1" rx="11.8" ry="1.9" fill="#1a5cf0" opacity="0.35"/><ellipse cx="47.9" cy="13.8" rx="15.8" ry="2.0" fill="#1a5cf0" opacity="0.35"/><ellipse cx="154.7" cy="6.5" rx="8.6" ry="1.7" fill="#0010c0" opacity="0.45"/><ellipse cx="170.1" cy="5.8" rx="10.7" ry="1.7" fill="#0010c0" opacity="0.45"/><ellipse cx="168.4" cy="8.6" rx="9.3" ry="1.4" fill="#0010c0" opacity="0.45"/><ellipse cx="177.9" cy="7.6" rx="15.2" ry="2.2" fill="#0010c0" opacity="0.45"/><ellipse cx="203.7" cy="8.4" rx="15.8" ry="1.6" fill="#0010c0" opacity="0.45"/><ellipse cx="148.6" cy="5.7" rx="15.6" ry="2.0" fill="#0010c0" opacity="0.45"/></g></g><g clip-path="url(#cb)"><g filter="url(#bl2)"><ellipse cx="258" cy="10" rx="28" ry="6" fill="#0040ff" opacity="0.7"/><ellipse cx="232" cy="20" rx="4" ry="14" fill="#0080ff" opacity="0.5"/></g></g><line x1="304" y1="143.3" x2="420.7" y2="143.3" stroke="#4848f0" stroke-width="1"/><line x1="32.8" y1="5.3" x2="32.8" y2="140.3" stroke="#0000ff" stroke-opacity="0.55" stroke-width="1.5"/><line x1="175" y1="5.3" x2="175" y2="140.3" stroke="#d81818" stroke-opacity="0.85" stroke-width="1.2"/><line x1="215.5" y1="5.3" x2="215.5" y2="140.3" stroke="#00ff00" stroke-opacity="0.5" stroke-width="1.5"/><line x1="32.8" y1="146.9" x2="32.8" y2="281.6" stroke="#0000ff" stroke-opacity="0.55" stroke-width="1.5"/><line x1="175" y1="146.9" x2="175" y2="281.6" stroke="#d81818" stroke-opacity="0.85" stroke-width="1.2"/><line x1="215.5" y1="146.9" x2="215.5" y2="281.6" stroke="#00ff00" stroke-opacity="0.5" stroke-width="1.5"/><line x1="236.5" y1="5.3" x2="236.5" y2="140.3" stroke="#0000ff" stroke-opacity="0.85" stroke-width="1.5" stroke-dasharray="2.6,2.6"/><line x1="379" y1="5.3" x2="379" y2="140.3" stroke="#e01c1c" stroke-opacity="1" stroke-width="1.6" stroke-dasharray="2.6,2.6"/><line x1="419.5" y1="5.3" x2="419.5" y2="140.3" stroke="#00ff00" stroke-opacity="0.5" stroke-width="1.5" stroke-dasharray="2.6,2.6"/><line x1="236.5" y1="146.9" x2="236.5" y2="281.6" stroke="#0000ff" stroke-opacity="0.85" stroke-width="1.5" stroke-dasharray="2.6,2.6"/><line x1="379" y1="146.9" x2="379" y2="281.6" stroke="#e01c1c" stroke-opacity="1" stroke-width="1.6" stroke-dasharray="2.6,2.6"/><line x1="419.5" y1="146.9" x2="419.5" y2="281.6" stroke="#00ff00" stroke-opacity="0.5" stroke-width="1.5" stroke-dasharray="2.6,2.6"/><rect x="25.8" y="5.3" width="197.2" height="135.0" fill="none" stroke="#000" stroke-width="0.9"/><path d="M26.62 140.30v1.20M26.62 5.30v-1.20M30.69 140.30v1.20M30.69 5.30v-1.20M34.76 140.30v1.20M34.76 5.30v-1.20M38.83 140.30v1.20M38.83 5.30v-1.20M42.90 140.30v2.00M42.90 5.30v-2.00M46.97 140.30v1.20M46.97 5.30v-1.20M51.04 140.30v1.20M51.04 5.30v-1.20M55.11 140.30v1.20M55.11 5.30v-1.20M59.18 140.30v1.20M59.18 5.30v-1.20M63.25 140.30v2.00M63.25 5.30v-2.00M67.32 140.30v1.20M67.32 5.30v-1.20M71.39 140.30v1.20M71.39 5.30v-1.20M75.46 140.30v1.20M75.46 5.30v-1.20M79.53 140.30v1.20M79.53 5.30v-1.20M83.60 140.30v2.00M83.60 5.30v-2.00M87.67 140.30v1.20M87.67 5.30v-1.20M91.74 140.30v1.20M91.74 5.30v-1.20M95.81 140.30v1.20M95.81 5.30v-1.20M99.88 140.30v1.20M99.88 5.30v-1.20M103.95 140.30v2.00M103.95 5.30v-2.00M108.02 140.30v1.20M108.02 5.30v-1.20M112.09 140.30v1.20M112.09 5.30v-1.20M116.16 140.30v1.20M116.16 5.30v-1.20M120.23 140.30v1.20M120.23 5.30v-1.20M124.30 140.30v2.00M124.30 5.30v-2.00M128.37 140.30v1.20M128.37 5.30v-1.20M132.44 140.30v1.20M132.44 5.30v-1.20M136.51 140.30v1.20M136.51 5.30v-1.20M140.58 140.30v1.20M140.58 5.30v-1.20M144.65 140.30v2.00M144.65 5.30v-2.00M148.72 140.30v1.20M148.72 5.30v-1.20M152.79 140.30v1.20M152.79 5.30v-1.20M156.86 140.30v1.20M156.86 5.30v-1.20M160.93 140.30v1.20M160.93 5.30v-1.20M165.00 140.30v2.00M165.00 5.30v-2.00M169.07 140.30v1.20M169.07 5.30v-1.20M173.14 140.30v1.20M173.14 5.30v-1.20M177.21 140.30v1.20M177.21 5.30v-1.20M181.28 140.30v1.20M181.28 5.30v-1.20M185.35 140.30v2.00M185.35 5.30v-2.00M189.42 140.30v1.20M189.42 5.30v-1.20M193.49 140.30v1.20M193.49 5.30v-1.20M197.56 140.30v1.20M197.56 5.30v-1.20M201.63 140.30v1.20M201.63 5.30v-1.20M205.70 140.30v2.00M205.70 5.30v-2.00M209.77 140.30v1.20M209.77 5.30v-1.20M213.84 140.30v1.20M213.84 5.30v-1.20M217.91 140.30v1.20M217.91 5.30v-1.20M221.98 140.30v1.20M221.98 5.30v-1.20M25.80 135.81h-1.20M223.00 135.81h1.20M25.80 131.32h-1.20M223.00 131.32h1.20M25.80 126.83h-1.20M223.00 126.83h1.20M25.80 122.34h-1.20M223.00 122.34h1.20M25.80 117.85h-2.20M223.00 117.85h2.20M25.80 113.36h-1.20M223.00 113.36h1.20M25.80 108.87h-1.20M223.00 108.87h1.20M25.80 104.38h-1.20M223.00 104.38h1.20M25.80 99.89h-1.20M223.00 99.89h1.20M25.80 95.40h-2.20M223.00 95.40h2.20M25.80 90.91h-1.20M223.00 90.91h1.20M25.80 86.42h-1.20M223.00 86.42h1.20M25.80 81.93h-1.20M223.00 81.93h1.20M25.80 77.44h-1.20M223.00 77.44h1.20M25.80 72.95h-2.20M223.00 72.95h2.20M25.80 68.46h-1.20M223.00 68.46h1.20M25.80 63.97h-1.20M223.00 63.97h1.20M25.80 59.48h-1.20M223.00 59.48h1.20M25.80 54.99h-1.20M223.00 54.99h1.20M25.80 50.50h-2.20M223.00 50.50h2.20M25.80 46.01h-1.20M223.00 46.01h1.20M25.80 41.52h-1.20M223.00 41.52h1.20M25.80 37.03h-1.20M223.00 37.03h1.20M25.80 32.54h-1.20M223.00 32.54h1.20M25.80 28.05h-2.20M223.00 28.05h2.20M25.80 23.56h-1.20M223.00 23.56h1.20M25.80 19.07h-1.20M223.00 19.07h1.20M25.80 14.58h-1.20M223.00 14.58h1.20M25.80 10.09h-1.20M223.00 10.09h1.20" stroke="#000" stroke-width="0.8" fill="none"/><rect x="229.7" y="5.3" width="197.2" height="135.0" fill="none" stroke="#000" stroke-width="0.9"/><path d="M230.52 140.30v1.20M230.52 5.30v-1.20M234.59 140.30v1.20M234.59 5.30v-1.20M238.66 140.30v1.20M238.66 5.30v-1.20M242.73 140.30v1.20M242.73 5.30v-1.20M246.80 140.30v2.00M246.80 5.30v-2.00M250.87 140.30v1.20M250.87 5.30v-1.20M254.94 140.30v1.20M254.94 5.30v-1.20M259.01 140.30v1.20M259.01 5.30v-1.20M263.08 140.30v1.20M263.08 5.30v-1.20M267.15 140.30v2.00M267.15 5.30v-2.00M271.22 140.30v1.20M271.22 5.30v-1.20M275.29 140.30v1.20M275.29 5.30v-1.20M279.36 140.30v1.20M279.36 5.30v-1.20M283.43 140.30v1.20M283.43 5.30v-1.20M287.50 140.30v2.00M287.50 5.30v-2.00M291.57 140.30v1.20M291.57 5.30v-1.20M295.64 140.30v1.20M295.64 5.30v-1.20M299.71 140.30v1.20M299.71 5.30v-1.20M303.78 140.30v1.20M303.78 5.30v-1.20M307.85 140.30v2.00M307.85 5.30v-2.00M311.92 140.30v1.20M311.92 5.30v-1.20M315.99 140.30v1.20M315.99 5.30v-1.20M320.06 140.30v1.20M320.06 5.30v-1.20M324.13 140.30v1.20M324.13 5.30v-1.20M328.20 140.30v2.00M328.20 5.30v-2.00M332.27 140.30v1.20M332.27 5.30v-1.20M336.34 140.30v1.20M336.34 5.30v-1.20M340.41 140.30v1.20M340.41 5.30v-1.20M344.48 140.30v1.20M344.48 5.30v-1.20M348.55 140.30v2.00M348.55 5.30v-2.00M352.62 140.30v1.20M352.62 5.30v-1.20M356.69 140.30v1.20M356.69 5.30v-1.20M360.76 140.30v1.20M360.76 5.30v-1.20M364.83 140.30v1.20M364.83 5.30v-1.20M368.90 140.30v2.00M368.90 5.30v-2.00M372.97 140.30v1.20M372.97 5.30v-1.20M377.04 140.30v1.20M377.04 5.30v-1.20M381.11 140.30v1.20M381.11 5.30v-1.20M385.18 140.30v1.20M385.18 5.30v-1.20M389.25 140.30v2.00M389.25 5.30v-2.00M393.32 140.30v1.20M393.32 5.30v-1.20M397.39 140.30v1.20M397.39 5.30v-1.20M401.46 140.30v1.20M401.46 5.30v-1.20M405.53 140.30v1.20M405.53 5.30v-1.20M409.60 140.30v2.00M409.60 5.30v-2.00M413.67 140.30v1.20M413.67 5.30v-1.20M417.74 140.30v1.20M417.74 5.30v-1.20M421.81 140.30v1.20M421.81 5.30v-1.20M425.88 140.30v1.20M425.88 5.30v-1.20M229.70 135.81h-1.20M426.90 135.81h1.20M229.70 131.32h-1.20M426.90 131.32h1.20M229.70 126.83h-1.20M426.90 126.83h1.20M229.70 122.34h-1.20M426.90 122.34h1.20M229.70 117.85h-2.20M426.90 117.85h2.20M229.70 113.36h-1.20M426.90 113.36h1.20M229.70 108.87h-1.20M426.90 108.87h1.20M229.70 104.38h-1.20M426.90 104.38h1.20M229.70 99.89h-1.20M426.90 99.89h1.20M229.70 95.40h-2.20M426.90 95.40h2.20M229.70 90.91h-1.20M426.90 90.91h1.20M229.70 86.42h-1.20M426.90 86.42h1.20M229.70 81.93h-1.20M426.90 81.93h1.20M229.70 77.44h-1.20M426.90 77.44h1.20M229.70 72.95h-2.20M426.90 72.95h2.20M229.70 68.46h-1.20M426.90 68.46h1.20M229.70 63.97h-1.20M426.90 63.97h1.20M229.70 59.48h-1.20M426.90 59.48h1.20M229.70 54.99h-1.20M426.90 54.99h1.20M229.70 50.50h-2.20M426.90 50.50h2.20M229.70 46.01h-1.20M426.90 46.01h1.20M229.70 41.52h-1.20M426.90 41.52h1.20M229.70 37.03h-1.20M426.90 37.03h1.20M229.70 32.54h-1.20M426.90 32.54h1.20M229.70 28.05h-2.20M426.90 28.05h2.20M229.70 23.56h-1.20M426.90 23.56h1.20M229.70 19.07h-1.20M426.90 19.07h1.20M229.70 14.58h-1.20M426.90 14.58h1.20M229.70 10.09h-1.20M426.90 10.09h1.20" stroke="#000" stroke-width="0.8" fill="none"/><rect x="25.8" y="146.9" width="197.2" height="134.7" fill="none" stroke="#000" stroke-width="0.9"/><path d="M26.62 281.60v1.20M26.62 146.90v-1.20M30.69 281.60v1.20M30.69 146.90v-1.20M34.76 281.60v1.20M34.76 146.90v-1.20M38.83 281.60v1.20M38.83 146.90v-1.20M42.90 281.60v2.00M42.90 146.90v-2.00M46.97 281.60v1.20M46.97 146.90v-1.20M51.04 281.60v1.20M51.04 146.90v-1.20M55.11 281.60v1.20M55.11 146.90v-1.20M59.18 281.60v1.20M59.18 146.90v-1.20M63.25 281.60v2.00M63.25 146.90v-2.00M67.32 281.60v1.20M67.32 146.90v-1.20M71.39 281.60v1.20M71.39 146.90v-1.20M75.46 281.60v1.20M75.46 146.90v-1.20M79.53 281.60v1.20M79.53 146.90v-1.20M83.60 281.60v2.00M83.60 146.90v-2.00M87.67 281.60v1.20M87.67 146.90v-1.20M91.74 281.60v1.20M91.74 146.90v-1.20M95.81 281.60v1.20M95.81 146.90v-1.20M99.88 281.60v1.20M99.88 146.90v-1.20M103.95 281.60v2.00M103.95 146.90v-2.00M108.02 281.60v1.20M108.02 146.90v-1.20M112.09 281.60v1.20M112.09 146.90v-1.20M116.16 281.60v1.20M116.16 146.90v-1.20M120.23 281.60v1.20M120.23 146.90v-1.20M124.30 281.60v2.00M124.30 146.90v-2.00M128.37 281.60v1.20M128.37 146.90v-1.20M132.44 281.60v1.20M132.44 146.90v-1.20M136.51 281.60v1.20M136.51 146.90v-1.20M140.58 281.60v1.20M140.58 146.90v-1.20M144.65 281.60v2.00M144.65 146.90v-2.00M148.72 281.60v1.20M148.72 146.90v-1.20M152.79 281.60v1.20M152.79 146.90v-1.20M156.86 281.60v1.20M156.86 146.90v-1.20M160.93 281.60v1.20M160.93 146.90v-1.20M165.00 281.60v2.00M165.00 146.90v-2.00M169.07 281.60v1.20M169.07 146.90v-1.20M173.14 281.60v1.20M173.14 146.90v-1.20M177.21 281.60v1.20M177.21 146.90v-1.20M181.28 281.60v1.20M181.28 146.90v-1.20M185.35 281.60v2.00M185.35 146.90v-2.00M189.42 281.60v1.20M189.42 146.90v-1.20M193.49 281.60v1.20M193.49 146.90v-1.20M197.56 281.60v1.20M197.56 146.90v-1.20M201.63 281.60v1.20M201.63 146.90v-1.20M205.70 281.60v2.00M205.70 146.90v-2.00M209.77 281.60v1.20M209.77 146.90v-1.20M213.84 281.60v1.20M213.84 146.90v-1.20M217.91 281.60v1.20M217.91 146.90v-1.20M221.98 281.60v1.20M221.98 146.90v-1.20M25.80 277.11h-1.20M223.00 277.11h1.20M25.80 272.62h-1.20M223.00 272.62h1.20M25.80 268.13h-1.20M223.00 268.13h1.20M25.80 263.64h-1.20M223.00 263.64h1.20M25.80 259.15h-2.20M223.00 259.15h2.20M25.80 254.66h-1.20M223.00 254.66h1.20M25.80 250.17h-1.20M223.00 250.17h1.20M25.80 245.68h-1.20M223.00 245.68h1.20M25.80 241.19h-1.20M223.00 241.19h1.20M25.80 236.70h-2.20M223.00 236.70h2.20M25.80 232.21h-1.20M223.00 232.21h1.20M25.80 227.72h-1.20M223.00 227.72h1.20M25.80 223.23h-1.20M223.00 223.23h1.20M25.80 218.74h-1.20M223.00 218.74h1.20M25.80 214.25h-2.20M223.00 214.25h2.20M25.80 209.76h-1.20M223.00 209.76h1.20M25.80 205.27h-1.20M223.00 205.27h1.20M25.80 200.78h-1.20M223.00 200.78h1.20M25.80 196.29h-1.20M223.00 196.29h1.20M25.80 191.80h-2.20M223.00 191.80h2.20M25.80 187.31h-1.20M223.00 187.31h1.20M25.80 182.82h-1.20M223.00 182.82h1.20M25.80 178.33h-1.20M223.00 178.33h1.20M25.80 173.84h-1.20M223.00 173.84h1.20M25.80 169.35h-2.20M223.00 169.35h2.20M25.80 164.86h-1.20M223.00 164.86h1.20M25.80 160.37h-1.20M223.00 160.37h1.20M25.80 155.88h-1.20M223.00 155.88h1.20M25.80 151.39h-1.20M223.00 151.39h1.20" stroke="#000" stroke-width="0.8" fill="none"/><rect x="229.7" y="146.9" width="197.2" height="134.7" fill="none" stroke="#000" stroke-width="0.9"/><path d="M230.52 281.60v1.20M230.52 146.90v-1.20M234.59 281.60v1.20M234.59 146.90v-1.20M238.66 281.60v1.20M238.66 146.90v-1.20M242.73 281.60v1.20M242.73 146.90v-1.20M246.80 281.60v2.00M246.80 146.90v-2.00M250.87 281.60v1.20M250.87 146.90v-1.20M254.94 281.60v1.20M254.94 146.90v-1.20M259.01 281.60v1.20M259.01 146.90v-1.20M263.08 281.60v1.20M263.08 146.90v-1.20M267.15 281.60v2.00M267.15 146.90v-2.00M271.22 281.60v1.20M271.22 146.90v-1.20M275.29 281.60v1.20M275.29 146.90v-1.20M279.36 281.60v1.20M279.36 146.90v-1.20M283.43 281.60v1.20M283.43 146.90v-1.20M287.50 281.60v2.00M287.50 146.90v-2.00M291.57 281.60v1.20M291.57 146.90v-1.20M295.64 281.60v1.20M295.64 146.90v-1.20M299.71 281.60v1.20M299.71 146.90v-1.20M303.78 281.60v1.20M303.78 146.90v-1.20M307.85 281.60v2.00M307.85 146.90v-2.00M311.92 281.60v1.20M311.92 146.90v-1.20M315.99 281.60v1.20M315.99 146.90v-1.20M320.06 281.60v1.20M320.06 146.90v-1.20M324.13 281.60v1.20M324.13 146.90v-1.20M328.20 281.60v2.00M328.20 146.90v-2.00M332.27 281.60v1.20M332.27 146.90v-1.20M336.34 281.60v1.20M336.34 146.90v-1.20M340.41 281.60v1.20M340.41 146.90v-1.20M344.48 281.60v1.20M344.48 146.90v-1.20M348.55 281.60v2.00M348.55 146.90v-2.00M352.62 281.60v1.20M352.62 146.90v-1.20M356.69 281.60v1.20M356.69 146.90v-1.20M360.76 281.60v1.20M360.76 146.90v-1.20M364.83 281.60v1.20M364.83 146.90v-1.20M368.90 281.60v2.00M368.90 146.90v-2.00M372.97 281.60v1.20M372.97 146.90v-1.20M377.04 281.60v1.20M377.04 146.90v-1.20M381.11 281.60v1.20M381.11 146.90v-1.20M385.18 281.60v1.20M385.18 146.90v-1.20M389.25 281.60v2.00M389.25 146.90v-2.00M393.32 281.60v1.20M393.32 146.90v-1.20M397.39 281.60v1.20M397.39 146.90v-1.20M401.46 281.60v1.20M401.46 146.90v-1.20M405.53 281.60v1.20M405.53 146.90v-1.20M409.60 281.60v2.00M409.60 146.90v-2.00M413.67 281.60v1.20M413.67 146.90v-1.20M417.74 281.60v1.20M417.74 146.90v-1.20M421.81 281.60v1.20M421.81 146.90v-1.20M425.88 281.60v1.20M425.88 146.90v-1.20M229.70 277.11h-1.20M426.90 277.11h1.20M229.70 272.62h-1.20M426.90 272.62h1.20M229.70 268.13h-1.20M426.90 268.13h1.20M229.70 263.64h-1.20M426.90 263.64h1.20M229.70 259.15h-2.20M426.90 259.15h2.20M229.70 254.66h-1.20M426.90 254.66h1.20M229.70 250.17h-1.20M426.90 250.17h1.20M229.70 245.68h-1.20M426.90 245.68h1.20M229.70 241.19h-1.20M426.90 241.19h1.20M229.70 236.70h-2.20M426.90 236.70h2.20M229.70 232.21h-1.20M426.90 232.21h1.20M229.70 227.72h-1.20M426.90 227.72h1.20M229.70 223.23h-1.20M426.90 223.23h1.20M229.70 218.74h-1.20M426.90 218.74h1.20M229.70 214.25h-2.20M426.90 214.25h2.20M229.70 209.76h-1.20M426.90 209.76h1.20M229.70 205.27h-1.20M426.90 205.27h1.20M229.70 200.78h-1.20M426.90 200.78h1.20M229.70 196.29h-1.20M426.90 196.29h1.20M229.70 191.80h-2.20M426.90 191.80h2.20M229.70 187.31h-1.20M426.90 187.31h1.20M229.70 182.82h-1.20M426.90 182.82h1.20M229.70 178.33h-1.20M426.90 178.33h1.20M229.70 173.84h-1.20M426.90 173.84h1.20M229.70 169.35h-2.20M426.90 169.35h2.20M229.70 164.86h-1.20M426.90 164.86h1.20M229.70 160.37h-1.20M426.90 160.37h1.20M229.70 155.88h-1.20M426.90 155.88h1.20M229.70 151.39h-1.20M426.90 151.39h1.20" stroke="#000" stroke-width="0.8" fill="none"/><text x="36.1" y="20.2" font-size="12.5" fill="#fff" stroke="#fff" stroke-width="0.45">(a)</text><text x="240.0" y="20.2" font-size="12.5" fill="#fff" stroke="#fff" stroke-width="0.45">(b)</text><text x="36.1" y="161.8" font-size="12.5" fill="#fff" stroke="#fff" stroke-width="0.45">(d)</text><text x="240.0" y="161.8" font-size="12.5" fill="#fff" stroke="#fff" stroke-width="0.45">(e)</text><g fill="none" stroke="#000" stroke-width="1.6"><ellipse cx="55.0" cy="96.6" rx="16.4" ry="3.8"/><path d="M38.6 96.6V126.6A16.4 3.8 0 0 0 71.4 126.6V96.6"/></g><ellipse cx="55" cy="126.6" rx="16.4" ry="3.8" fill="none" stroke="#000" stroke-width="1.6"/><g fill="none" stroke="#000" stroke-width="1.6"><ellipse cx="258.2" cy="96.2" rx="16.5" ry="3.8"/><path d="M241.7 96.2V124.8A16.5 3.8 0 0 0 274.7 124.8V96.2"/></g><ellipse cx="258.2" cy="124.8" rx="16.5" ry="3.8" fill="none" stroke="#000" stroke-width="1.6"/><circle cx="55.5" cy="254.7" r="17.9" fill="none" stroke="#000" stroke-width="1.7"/><circle cx="258.5" cy="256" r="17.9" fill="none" stroke="#000" stroke-width="1.7"/><line x1="249.9" y1="85.8" x2="249.9" y2="136.0" stroke="#000" stroke-width="1.35" stroke-dasharray="2.5,1.6"/><path d="M249.9 109.3L246.7 117.6L253.1 117.6z" fill="#000"/><line x1="258.2" y1="85.8" x2="258.2" y2="136.0" stroke="#000" stroke-width="1.35" stroke-dasharray="2.5,1.6"/><path d="M258.2 109.3L255.0 117.6L261.4 117.6z" fill="#000"/><line x1="266.5" y1="85.8" x2="266.5" y2="136.0" stroke="#000" stroke-width="1.35" stroke-dasharray="2.5,1.6"/><path d="M266.5 109.3L263.3 117.6L269.7 117.6z" fill="#000"/><line x1="249.5" y1="229.4" x2="249.5" y2="280.6" stroke="#000" stroke-width="1.35" stroke-dasharray="2.5,1.6"/><path d="M249.5 253.8L246.3 261.9L252.7 261.9z" fill="#000"/><line x1="258.0" y1="229.4" x2="258.0" y2="280.6" stroke="#000" stroke-width="1.35" stroke-dasharray="2.5,1.6"/><path d="M258.0 253.8L254.8 261.9L261.2 261.9z" fill="#000"/><line x1="266.7" y1="229.4" x2="266.7" y2="280.6" stroke="#000" stroke-width="1.35" stroke-dasharray="2.5,1.6"/><path d="M266.7 253.8L263.5 261.9L269.9 261.9z" fill="#000"/><text x="23" y="122.0" font-size="7.8" font-weight="bold" stroke="#000" stroke-width="0.3" text-anchor="end">10</text><text x="23" y="99.5" font-size="7.8" font-weight="bold" stroke="#000" stroke-width="0.3" text-anchor="end">20</text><text x="23" y="77.0" font-size="7.8" font-weight="bold" stroke="#000" stroke-width="0.3" text-anchor="end">30</text><text x="23" y="54.6" font-size="7.8" font-weight="bold" stroke="#000" stroke-width="0.3" text-anchor="end">40</text><text x="23" y="32.2" font-size="7.8" font-weight="bold" stroke="#000" stroke-width="0.3" text-anchor="end">50</text><text x="23" y="263.3" font-size="7.8" font-weight="bold" stroke="#000" stroke-width="0.3" text-anchor="end">10</text><text x="23" y="240.8" font-size="7.8" font-weight="bold" stroke="#000" stroke-width="0.3" text-anchor="end">20</text><text x="23" y="218.3" font-size="7.8" font-weight="bold" stroke="#000" stroke-width="0.3" text-anchor="end">30</text><text x="23" y="195.9" font-size="7.8" font-weight="bold" stroke="#000" stroke-width="0.3" text-anchor="end">40</text><text x="23" y="173.5" font-size="7.8" font-weight="bold" stroke="#000" stroke-width="0.3" text-anchor="end">50</text><text x="42.9" y="292.8" font-size="7.8" font-weight="bold" stroke="#000" stroke-width="0.3" text-anchor="middle">1</text><text x="63.3" y="292.8" font-size="7.8" font-weight="bold" stroke="#000" stroke-width="0.3" text-anchor="middle">2</text><text x="83.6" y="292.8" font-size="7.8" font-weight="bold" stroke="#000" stroke-width="0.3" text-anchor="middle">3</text><text x="104.0" y="292.8" font-size="7.8" font-weight="bold" stroke="#000" stroke-width="0.3" text-anchor="middle">4</text><text x="124.3" y="292.8" font-size="7.8" font-weight="bold" stroke="#000" stroke-width="0.3" text-anchor="middle">5</text><text x="144.7" y="292.8" font-size="7.8" font-weight="bold" stroke="#000" stroke-width="0.3" text-anchor="middle">6</text><text x="165.0" y="292.8" font-size="7.8" font-weight="bold" stroke="#000" stroke-width="0.3" text-anchor="middle">7</text><text x="185.4" y="292.8" font-size="7.8" font-weight="bold" stroke="#000" stroke-width="0.3" text-anchor="middle">8</text><text x="205.7" y="292.8" font-size="7.8" font-weight="bold" stroke="#000" stroke-width="0.3" text-anchor="middle">9</text><text x="246.8" y="292.8" font-size="7.8" font-weight="bold" stroke="#000" stroke-width="0.3" text-anchor="middle">1</text><text x="267.1" y="292.8" font-size="7.8" font-weight="bold" stroke="#000" stroke-width="0.3" text-anchor="middle">2</text><text x="287.5" y="292.8" font-size="7.8" font-weight="bold" stroke="#000" stroke-width="0.3" text-anchor="middle">3</text><text x="307.8" y="292.8" font-size="7.8" font-weight="bold" stroke="#000" stroke-width="0.3" text-anchor="middle">4</text><text x="328.2" y="292.8" font-size="7.8" font-weight="bold" stroke="#000" stroke-width="0.3" text-anchor="middle">5</text><text x="348.5" y="292.8" font-size="7.8" font-weight="bold" stroke="#000" stroke-width="0.3" text-anchor="middle">6</text><text x="368.9" y="292.8" font-size="7.8" font-weight="bold" stroke="#000" stroke-width="0.3" text-anchor="middle">7</text><text x="389.2" y="292.8" font-size="7.8" font-weight="bold" stroke="#000" stroke-width="0.3" text-anchor="middle">8</text><text x="409.6" y="292.8" font-size="7.8" font-weight="bold" stroke="#000" stroke-width="0.3" text-anchor="middle">9</text><text transform="translate(9.9 73.0) rotate(-90)" font-size="11" text-anchor="middle"><tspan class="i" font-size="12.5">ε</tspan><tspan class="i" font-size="8.5" dy="2">k</tspan><tspan dy="-2" xml:space="preserve">  (keV)</tspan></text><text transform="translate(9.9 213.4) rotate(-90)" font-size="11" text-anchor="middle"><tspan class="i" font-size="12.5">ε</tspan><tspan class="i" font-size="8.5" dy="2">k</tspan><tspan dy="-2" xml:space="preserve">  (keV)</tspan></text><text x="123.2" y="305" font-size="10.8" text-anchor="middle" xml:space="preserve"><tspan class="i">ρ</tspan>  (λ<tspan class="i" font-size="9" dy="2">μa</tspan><tspan dy="-2">)</tspan></text><text x="328.6" y="305" font-size="10.8" text-anchor="middle" xml:space="preserve"><tspan class="i">ρ</tspan>  (λ<tspan class="i" font-size="9" dy="2">μa</tspan><tspan dy="-2">)</tspan></text><rect x="433" y="5.5" width="8.5" height="277.0" fill="url(#gcb)" stroke="#000" stroke-width="0.8"/><path d="M441.5 5.50h-3.00M433 5.50h3.00M441.5 13.94h-1.50M433 13.94h1.50M441.5 22.38h-1.50M433 22.38h1.50M441.5 30.82h-1.50M433 30.82h1.50M441.5 39.26h-1.50M433 39.26h1.50M441.5 47.70h-3.00M433 47.70h3.00M441.5 56.14h-1.50M433 56.14h1.50M441.5 64.58h-1.50M433 64.58h1.50M441.5 73.02h-1.50M433 73.02h1.50M441.5 81.46h-1.50M433 81.46h1.50M441.5 89.90h-3.00M433 89.90h3.00M441.5 98.34h-1.50M433 98.34h1.50M441.5 106.78h-1.50M433 106.78h1.50M441.5 115.22h-1.50M433 115.22h1.50M441.5 123.66h-1.50M433 123.66h1.50M441.5 132.10h-3.00M433 132.10h3.00M441.5 140.54h-1.50M433 140.54h1.50M441.5 148.98h-1.50M433 148.98h1.50M441.5 157.42h-1.50M433 157.42h1.50M441.5 165.86h-1.50M433 165.86h1.50M441.5 174.30h-3.00M433 174.30h3.00M441.5 182.74h-1.50M433 182.74h1.50M441.5 191.18h-1.50M433 191.18h1.50M441.5 199.62h-1.50M433 199.62h1.50M441.5 208.06h-1.50M433 208.06h1.50M441.5 216.50h-3.00M433 216.50h3.00M441.5 224.94h-1.50M433 224.94h1.50M441.5 233.38h-1.50M433 233.38h1.50M441.5 241.82h-1.50M433 241.82h1.50M441.5 250.26h-1.50M433 250.26h1.50M441.5 258.70h-3.00M433 258.70h3.00M441.5 267.14h-1.50M433 267.14h1.50M441.5 275.58h-1.50M433 275.58h1.50" stroke="#000" stroke-width="0.8" fill="none"/><text x="442.5" y="8.3" font-size="8" font-weight="bold">0</text><text x="442.5" y="50.5" font-size="8" font-weight="bold">−1</text><text x="442.5" y="92.7" font-size="8" font-weight="bold">−2</text><text x="442.5" y="134.9" font-size="8" font-weight="bold">−3</text><text x="442.5" y="177.1" font-size="8" font-weight="bold">−4</text><text x="442.5" y="219.3" font-size="8" font-weight="bold">−5</text><text x="442.5" y="261.5" font-size="8" font-weight="bold">−6</text><text x="419" y="297.4" font-size="10.5" letter-spacing="0.25">log [<tspan class="i">f</tspan><tspan font-size="7" dy="2">a</tspan><tspan dy="-2">(</tspan><tspan class="i">ρ, ε</tspan><tspan class="i" font-size="7" dy="2">k</tspan><tspan dy="-2">)]</tspan></text><text x="447" y="310.3" font-size="10.5" text-anchor="middle">[a.u.]</text><rect x="491.6" y="5.0" width="197.6" height="135.4" fill="#fff" stroke="#000" stroke-width="0.9"/><path d="M491.60 140.40v2.00M491.60 5.00v-1.20M519.83 140.40v2.00M519.83 5.00v-1.20M548.06 140.40v2.00M548.06 5.00v-1.20M576.29 140.40v2.00M576.29 5.00v-1.20M604.51 140.40v2.00M604.51 5.00v-1.20M632.74 140.40v2.00M632.74 5.00v-1.20M660.97 140.40v2.00M660.97 5.00v-1.20M689.20 140.40v2.00M689.20 5.00v-1.20M491.60 140.40h-2.20M689.20 140.40h2.20M491.60 122.67h-1.20M689.20 122.67h1.20M491.60 112.30h-1.20M689.20 112.30h1.20M491.60 104.94h-1.20M689.20 104.94h1.20M491.60 99.23h-1.20M689.20 99.23h1.20M491.60 94.57h-1.20M689.20 94.57h1.20M491.60 90.62h-1.20M689.20 90.62h1.20M491.60 87.21h-1.20M689.20 87.21h1.20M491.60 84.20h-1.20M689.20 84.20h1.20M491.60 81.50h-2.20M689.20 81.50h2.20M491.60 63.77h-1.20M689.20 63.77h1.20M491.60 53.40h-1.20M689.20 53.40h1.20M491.60 46.04h-1.20M689.20 46.04h1.20M491.60 40.33h-1.20M689.20 40.33h1.20M491.60 35.67h-1.20M689.20 35.67h1.20M491.60 31.72h-1.20M689.20 31.72h1.20M491.60 28.31h-1.20M689.20 28.31h1.20M491.60 25.30h-1.20M689.20 25.30h1.20M491.60 22.60h-2.20M689.20 22.60h2.20" stroke="#000" stroke-width="0.7" fill="none"/><text x="489.6" y="25.9" font-size="8" font-weight="bold" stroke="#000" stroke-width="0.3" text-anchor="end">10<tspan font-size="5.6" stroke-width="0.15" dy="-4.2">−1</tspan></text><text x="489.6" y="84.8" font-size="8" font-weight="bold" stroke="#000" stroke-width="0.3" text-anchor="end">10<tspan font-size="5.6" stroke-width="0.15" dy="-4.2">−2</tspan></text><text x="489.6" y="143.7" font-size="8" font-weight="bold" stroke="#000" stroke-width="0.3" text-anchor="end">10<tspan font-size="5.6" stroke-width="0.15" dy="-4.2">−3</tspan></text><g fill="none" stroke-linejoin="round" stroke-linecap="butt"><path d="M492.40 46.47 L493.20 43.18 L493.99 39.62 L494.79 36.13 L495.59 33.05 L496.38 30.60 L497.18 28.74 L497.98 27.35 L498.77 26.31 L499.57 25.52 L500.37 24.87 L501.16 24.32 L501.96 23.87 L502.76 23.50 L503.56 23.21 L504.35 23.01 L505.15 22.87 L505.95 22.80 L506.74 22.78 L507.54 22.83 L508.34 22.92 L509.13 23.05 L509.93 23.22 L510.73 23.42 L511.52 23.65 L512.32 23.90 L513.12 24.17 L513.91 24.46 L514.71 24.76 L515.51 25.08 L516.30 25.41 L517.10 25.77 L517.90 26.13 L518.69 26.51 L519.49 26.91 L520.29 27.31 L521.08 27.73 L521.88 28.17 L522.68 28.61 L523.48 29.06 L524.27 29.53 L525.07 30.00 L525.87 30.49 L526.66 30.98 L527.46 31.48 L528.26 31.99 L529.05 32.51 L529.85 33.03 L530.65 33.56 L531.44 34.10 L532.24 34.64 L533.04 35.18 L533.83 35.73 L534.63 36.28 L535.43 36.84 L536.22 37.39 L537.02 37.95 L537.82 38.51 L538.61 39.07 L539.41 39.63 L540.21 40.19 L541.01 40.75 L541.80 41.31 L542.60 41.89 L543.40 42.46 L544.19 43.00 L544.99 43.53 L545.79 44.03 L546.58 44.50 L547.38 44.95 L548.18 45.37 L548.97 45.79 L549.77 46.20 L550.57 46.62 L551.36 47.04 L552.16 47.49 L552.96 47.95 L553.75 48.41 L554.55 48.88 L555.35 49.35 L556.14 49.83 L556.94 50.31 L557.74 50.79 L558.53 51.28 L559.33 51.78 L560.13 52.28 L560.93 52.78 L561.72 53.29 L562.52 53.80 L563.32 54.32 L564.11 54.84 L564.91 55.36 L565.71 55.89 L566.50 56.42 L567.30 56.96 L568.10 57.50 L568.89 58.05 L569.69 58.60 L570.49 59.15 L571.28 59.70 L572.08 60.26 L572.88 60.83 L573.67 61.40 L574.47 61.97 L575.27 62.54 L576.06 63.12 L576.86 63.70 L577.66 64.28 L578.45 64.87 L579.25 65.46 L580.05 66.06 L580.85 66.66 L581.64 67.26 L582.44 67.86 L583.24 68.47 L584.03 69.08 L584.83 69.69 L585.63 70.31 L586.42 70.93 L587.22 71.55 L588.02 72.17 L588.81 72.80 L589.61 73.43 L590.41 74.06 L591.20 74.70 L592.00 75.34 L592.80 75.98 L593.59 76.62 L594.39 77.26 L595.19 77.91 L595.98 78.56 L596.78 79.21 L597.58 79.87 L598.37 80.53 L599.17 81.18 L599.97 81.85 L600.77 82.51 L601.56 83.17 L602.36 83.84 L603.16 84.51 L603.95 85.18 L604.75 85.85 L605.55 86.53 L606.34 87.20 L607.14 87.88 L607.94 88.56 L608.73 89.24 L609.53 89.92 L610.33 90.61 L611.12 91.29 L611.92 91.98 L612.72 92.67 L613.51 93.36 L614.31 94.05 L615.11 94.74 L615.90 95.43 L616.70 96.13 L617.50 96.82 L618.29 97.52 L619.09 98.21 L619.89 98.91 L620.69 99.61 L621.48 100.31 L622.28 101.01 L623.08 101.71 L623.87 102.41 L624.67 103.12 L625.47 103.82 L626.26 104.52 L627.06 105.23 L627.86 105.93 L628.65 106.64 L629.45 107.34 L630.25 108.05 L631.04 108.76 L631.84 109.46 L632.64 110.17 L633.43 110.88 L634.23 111.58 L635.03 112.29 L635.82 113.00 L636.62 113.70 L637.42 114.41 L638.22 115.12 L639.01 115.82 L639.81 116.53 L640.61 117.24 L641.40 117.94 L642.20 118.65 L643.00 119.35 L643.79 120.06 L644.59 120.76 L645.39 121.46 L646.18 122.17 L646.98 122.87 L647.78 123.57 L648.57 124.27 L649.37 124.97 L650.17 125.67 L650.96 126.37 L651.76 127.06 L652.56 127.76 L653.35 128.46 L654.15 129.15 L654.95 129.84 L655.74 130.54 L656.54 131.23 L657.34 131.92 L658.14 132.60 L658.93 133.29 L659.73 133.98 L660.53 134.66 L661.32 135.34 L662.12 136.02 L662.92 136.70 L663.71 137.38 L664.51 138.06 L665.31 138.73 L666.10 139.40 L666.90 140.07" stroke="#1414d8" stroke-width="1.9"/><path d="M492.40 46.47 L493.20 43.15 L494.01 39.55 L494.81 36.04 L495.62 32.95 L496.42 30.51 L497.22 28.65 L498.03 27.27 L498.83 26.24 L499.64 25.46 L500.44 24.82 L501.25 24.27 L502.05 23.82 L502.85 23.46 L503.66 23.18 L504.46 22.98 L505.27 22.85 L506.07 22.79 L506.87 22.79 L507.68 22.84 L508.48 22.94 L509.29 23.08 L510.09 23.26 L510.89 23.47 L511.70 23.71 L512.50 23.96 L513.31 24.24 L514.11 24.53 L514.92 24.84 L515.72 25.17 L516.52 25.51 L517.33 25.87 L518.13 26.24 L518.94 26.63 L519.74 27.03 L520.54 27.45 L521.35 27.87 L522.15 28.31 L522.96 28.77 L523.76 29.23 L524.56 29.70 L525.37 30.19 L526.17 30.68 L526.98 31.18 L527.78 31.69 L528.58 32.21 L529.39 32.73 L530.19 33.26 L531.00 33.80 L531.80 34.34 L532.61 34.89 L533.41 35.44 L534.21 35.99 L535.02 36.55 L535.82 37.11 L536.63 37.67 L537.43 38.24 L538.23 38.80 L539.04 39.37 L539.84 39.93 L540.65 40.50 L541.45 41.06 L542.25 41.64 L543.06 42.22 L543.86 42.78 L544.67 43.32 L545.47 43.83 L546.28 44.32 L547.08 44.78 L547.88 45.22 L548.69 45.64 L549.49 46.06 L550.30 46.47 L551.10 46.90 L551.90 47.34 L552.71 47.80 L553.51 48.27 L554.32 48.74 L555.12 49.21 L555.92 49.69 L556.73 50.18 L557.53 50.67 L558.34 51.16 L559.14 51.66 L559.95 52.16 L560.75 52.67 L561.55 53.18 L562.36 53.70 L563.16 54.22 L563.97 54.74 L564.77 55.27 L565.57 55.80 L566.38 56.34 L567.18 56.88 L567.99 57.43 L568.79 57.98 L569.59 58.53 L570.40 59.09 L571.20 59.65 L572.01 60.21 L572.81 60.78 L573.62 61.35 L574.42 61.93 L575.22 62.51 L576.03 63.09 L576.83 63.68 L577.64 64.27 L578.44 64.86 L579.24 65.46 L580.05 66.06 L580.85 66.66 L581.66 67.27 L582.46 67.88 L583.26 68.49 L584.07 69.11 L584.87 69.72 L585.68 70.35 L586.48 70.97 L587.28 71.60 L588.09 72.23 L588.89 72.86 L589.70 73.50 L590.50 74.14 L591.31 74.78 L592.11 75.42 L592.91 76.07 L593.72 76.72 L594.52 77.37 L595.33 78.02 L596.13 78.68 L596.93 79.34 L597.74 80.00 L598.54 80.66 L599.35 81.33 L600.15 82.00 L600.95 82.66 L601.76 83.33 L602.56 83.99 L603.37 84.65 L604.17 85.31 L604.98 85.96 L605.78 86.62 L606.58 87.27 L607.39 87.92 L608.19 88.57 L609.00 89.22 L609.80 89.87 L610.60 90.52 L611.41 91.17 L612.21 91.82 L613.02 92.47 L613.82 93.12 L614.62 93.78 L615.43 94.43 L616.23 95.08 L617.04 95.74 L617.84 96.39 L618.65 97.05 L619.45 97.71 L620.25 98.38 L621.06 99.04 L621.86 99.71 L622.67 100.38 L623.47 101.05 L624.27 101.73 L625.08 102.41 L625.88 103.10 L626.69 103.79 L627.49 104.48 L628.29 105.18 L629.10 105.89 L629.90 106.59 L630.71 107.31 L631.51 108.02 L632.32 108.73 L633.12 109.44 L633.92 110.16 L634.73 110.87 L635.53 111.58 L636.34 112.30 L637.14 113.01 L637.94 113.72 L638.75 114.44 L639.55 115.15 L640.36 115.86 L641.16 116.58 L641.96 117.29 L642.77 118.00 L643.57 118.71 L644.38 119.42 L645.18 120.13 L645.98 120.84 L646.79 121.55 L647.59 122.26 L648.40 122.97 L649.20 123.68 L650.01 124.39 L650.81 125.09 L651.61 125.80 L652.42 126.50 L653.22 127.21 L654.03 127.91 L654.83 128.61 L655.63 129.31 L656.44 130.01 L657.24 130.71 L658.05 131.40 L658.85 132.10 L659.65 132.79 L660.46 133.49 L661.26 134.18 L662.07 134.87 L662.87 135.55 L663.68 136.24 L664.48 136.93 L665.28 137.61 L666.09 138.29 L666.89 138.97 L667.70 139.65 L668.50 140.32" stroke="#e01010" stroke-width="1.4" stroke-dasharray="2.5,2"/><path d="M492.40 46.77 L493.16 43.65 L493.91 40.28 L494.67 36.93 L495.43 33.91 L496.19 31.45 L496.94 29.54 L497.70 28.09 L498.46 26.99 L499.21 26.15 L499.97 25.48 L500.73 24.91 L501.48 24.43 L502.24 24.03 L503.00 23.70 L503.76 23.45 L504.51 23.27 L505.27 23.15 L506.03 23.09 L506.78 23.08 L507.54 23.13 L508.30 23.21 L509.06 23.34 L509.81 23.49 L510.57 23.68 L511.33 23.89 L512.08 24.13 L512.84 24.38 L513.60 24.64 L514.36 24.92 L515.11 25.22 L515.87 25.53 L516.63 25.85 L517.38 26.19 L518.14 26.55 L518.90 26.91 L519.65 27.29 L520.41 27.68 L521.17 28.08 L521.93 28.49 L522.68 28.91 L523.44 29.34 L524.20 29.78 L524.95 30.24 L525.71 30.69 L526.47 31.16 L527.23 31.64 L527.98 32.12 L528.74 32.61 L529.50 33.10 L530.25 33.60 L531.01 34.11 L531.77 34.62 L532.53 35.13 L533.28 35.65 L534.04 36.17 L534.80 36.70 L535.55 37.22 L536.31 37.75 L537.07 38.28 L537.82 38.82 L538.58 39.35 L539.34 39.88 L540.10 40.41 L540.85 40.94 L541.61 41.47 L542.37 42.01 L543.12 42.54 L543.88 43.05 L544.64 43.55 L545.40 44.03 L546.15 44.49 L546.91 44.94 L547.67 45.37 L548.42 45.80 L549.18 46.22 L549.94 46.64 L550.69 47.07 L551.45 47.51 L552.21 47.97 L552.97 48.44 L553.72 48.91 L554.48 49.38 L555.24 49.86 L555.99 50.34 L556.75 50.82 L557.51 51.31 L558.27 51.80 L559.02 52.30 L559.78 52.79 L560.54 53.30 L561.29 53.80 L562.05 54.31 L562.81 54.82 L563.57 55.34 L564.32 55.86 L565.08 56.38 L565.84 56.90 L566.59 57.43 L567.35 57.96 L568.11 58.50 L568.86 59.04 L569.62 59.58 L570.38 60.12 L571.14 60.67 L571.89 61.22 L572.65 61.78 L573.41 62.33 L574.16 62.89 L574.92 63.46 L575.68 64.02 L576.44 64.59 L577.19 65.17 L577.95 65.74 L578.71 66.32 L579.46 66.90 L580.22 67.49 L580.98 68.08 L581.74 68.67 L582.49 69.26 L583.25 69.86 L584.01 70.46 L584.76 71.06 L585.52 71.66 L586.28 72.27 L587.03 72.88 L587.79 73.49 L588.55 74.11 L589.31 74.73 L590.06 75.35 L590.82 75.97 L591.58 76.60 L592.33 77.23 L593.09 77.86 L593.85 78.50 L594.61 79.14 L595.36 79.78 L596.12 80.42 L596.88 81.06 L597.63 81.71 L598.39 82.36 L599.15 83.01 L599.91 83.67 L600.66 84.33 L601.42 84.99 L602.18 85.65 L602.93 86.31 L603.69 86.98 L604.45 87.65 L605.20 88.32 L605.96 89.00 L606.72 89.67 L607.48 90.35 L608.23 91.03 L608.99 91.71 L609.75 92.40 L610.50 93.09 L611.26 93.78 L612.02 94.47 L612.78 95.16 L613.53 95.86 L614.29 96.56 L615.05 97.26 L615.80 97.96 L616.56 98.67 L617.32 99.37 L618.07 100.08 L618.83 100.79 L619.59 101.50 L620.35 102.22 L621.10 102.93 L621.86 103.65 L622.62 104.37 L623.37 105.09 L624.13 105.82 L624.89 106.54 L625.65 107.27 L626.40 108.00 L627.16 108.73 L627.92 109.47 L628.67 110.20 L629.43 110.94 L630.19 111.67 L630.95 112.41 L631.70 113.16 L632.46 113.90 L633.22 114.64 L633.97 115.39 L634.73 116.14 L635.49 116.89 L636.24 117.64 L637.00 118.39 L637.76 119.15 L638.52 119.90 L639.27 120.66 L640.03 121.42 L640.79 122.18 L641.54 122.94 L642.30 123.70 L643.06 124.46 L643.82 125.23 L644.57 126.00 L645.33 126.76 L646.09 127.53 L646.84 128.31 L647.60 129.08 L648.36 129.85 L649.12 130.62 L649.87 131.40 L650.63 132.18 L651.39 132.96 L652.14 133.73 L652.90 134.51 L653.66 135.30 L654.41 136.08 L655.17 136.86 L655.93 137.65 L656.69 138.43 L657.44 139.22 L658.20 140.01" stroke="#f01818" stroke-width="1.8"/><path d="M492.40 45.33 L493.14 41.85 L493.88 38.44 L494.62 35.24 L495.36 32.39 L496.09 30.03 L496.83 28.16 L497.57 26.69 L498.31 25.57 L499.05 24.71 L499.79 24.04 L500.53 23.51 L501.27 23.08 L502.00 22.75 L502.74 22.50 L503.48 22.30 L504.22 22.17 L504.96 22.09 L505.70 22.05 L506.44 22.06 L507.18 22.11 L507.92 22.20 L508.65 22.32 L509.39 22.48 L510.13 22.66 L510.87 22.87 L511.61 23.10 L512.35 23.35 L513.09 23.61 L513.83 23.90 L514.56 24.19 L515.30 24.51 L516.04 24.83 L516.78 25.18 L517.52 25.53 L518.26 25.90 L519.00 26.28 L519.74 26.68 L520.47 27.08 L521.21 27.49 L521.95 27.92 L522.69 28.35 L523.43 28.80 L524.17 29.25 L524.91 29.71 L525.65 30.18 L526.39 30.65 L527.12 31.13 L527.86 31.61 L528.60 32.10 L529.34 32.60 L530.08 33.10 L530.82 33.61 L531.56 34.12 L532.30 34.64 L533.03 35.15 L533.77 35.68 L534.51 36.20 L535.25 36.73 L535.99 37.26 L536.73 37.80 L537.47 38.34 L538.21 38.88 L538.95 39.41 L539.68 39.93 L540.42 40.46 L541.16 40.99 L541.90 41.52 L542.64 42.07 L543.38 42.62 L544.12 43.19 L544.86 43.77 L545.59 44.36 L546.33 44.96 L547.07 45.58 L547.81 46.20 L548.55 46.84 L549.29 47.48 L550.03 48.13 L550.77 48.77 L551.51 49.41 L552.24 50.04 L552.98 50.67 L553.72 51.30 L554.46 51.93 L555.20 52.55 L555.94 53.18 L556.68 53.81 L557.42 54.44 L558.15 55.06 L558.89 55.69 L559.63 56.32 L560.37 56.95 L561.11 57.57 L561.85 58.20 L562.59 58.83 L563.33 59.46 L564.06 60.08 L564.80 60.71 L565.54 61.34 L566.28 61.96 L567.02 62.59 L567.76 63.22 L568.50 63.85 L569.24 64.47 L569.98 65.10 L570.71 65.73 L571.45 66.36 L572.19 66.99 L572.93 67.61 L573.67 68.24 L574.41 68.87 L575.15 69.50 L575.89 70.13 L576.62 70.76 L577.36 71.39 L578.10 72.02 L578.84 72.65 L579.58 73.28 L580.32 73.91 L581.06 74.54 L581.80 75.17 L582.54 75.80 L583.27 76.43 L584.01 77.06 L584.75 77.70 L585.49 78.33 L586.23 78.96 L586.97 79.59 L587.71 80.23 L588.45 80.86 L589.18 81.50 L589.92 82.13 L590.66 82.77 L591.40 83.40 L592.14 84.04 L592.88 84.67 L593.62 85.31 L594.36 85.95 L595.09 86.59 L595.83 87.22 L596.57 87.86 L597.31 88.50 L598.05 89.14 L598.79 89.78 L599.53 90.42 L600.27 91.06 L601.01 91.71 L601.74 92.35 L602.48 92.99 L603.22 93.64 L603.96 94.28 L604.70 94.93 L605.44 95.57 L606.18 96.22 L606.92 96.87 L607.65 97.51 L608.39 98.16 L609.13 98.81 L609.87 99.46 L610.61 100.11 L611.35 100.76 L612.09 101.41 L612.83 102.07 L613.57 102.72 L614.30 103.37 L615.04 104.03 L615.78 104.68 L616.52 105.34 L617.26 106.00 L618.00 106.66 L618.74 107.32 L619.48 107.98 L620.21 108.64 L620.95 109.30 L621.69 109.96 L622.43 110.62 L623.17 111.29 L623.91 111.95 L624.65 112.62 L625.39 113.29 L626.13 113.95 L626.86 114.62 L627.60 115.29 L628.34 115.96 L629.08 116.64 L629.82 117.31 L630.56 117.98 L631.30 118.66 L632.04 119.33 L632.77 120.01 L633.51 120.69 L634.25 121.37 L634.99 122.05 L635.73 122.73 L636.47 123.41 L637.21 124.10 L637.95 124.78 L638.68 125.47 L639.42 126.15 L640.16 126.84 L640.90 127.53 L641.64 128.22 L642.38 128.91 L643.12 129.61 L643.86 130.30 L644.60 130.99 L645.33 131.69 L646.07 132.39 L646.81 133.09 L647.55 133.79 L648.29 134.49 L649.03 135.19 L649.77 135.90 L650.51 136.60 L651.24 137.31 L651.98 138.02 L652.72 138.73 L653.46 139.44 L654.20 140.15" stroke="#22e022" stroke-width="1.7" stroke-dasharray="3,2"/><path d="M492.40 43.89 L493.08 40.28 L493.76 36.99 L494.43 34.04 L495.11 31.45 L495.79 29.23 L496.47 27.38 L497.14 25.88 L497.82 24.67 L498.50 23.71 L499.18 22.97 L499.85 22.40 L500.53 21.96 L501.21 21.63 L501.89 21.39 L502.56 21.22 L503.24 21.11 L503.92 21.03 L504.60 20.99 L505.27 20.98 L505.95 21.00 L506.63 21.05 L507.31 21.14 L507.99 21.25 L508.66 21.38 L509.34 21.54 L510.02 21.72 L510.70 21.92 L511.37 22.14 L512.05 22.37 L512.73 22.63 L513.41 22.89 L514.08 23.18 L514.76 23.47 L515.44 23.78 L516.12 24.10 L516.79 24.44 L517.47 24.78 L518.15 25.14 L518.83 25.51 L519.51 25.89 L520.18 26.28 L520.86 26.68 L521.54 27.08 L522.22 27.50 L522.89 27.92 L523.57 28.35 L524.25 28.78 L524.93 29.22 L525.60 29.67 L526.28 30.12 L526.96 30.57 L527.64 31.03 L528.31 31.49 L528.99 31.96 L529.67 32.43 L530.35 32.91 L531.02 33.39 L531.70 33.87 L532.38 34.35 L533.06 34.84 L533.74 35.34 L534.41 35.83 L535.09 36.33 L535.77 36.84 L536.45 37.34 L537.12 37.85 L537.80 38.36 L538.48 38.87 L539.16 39.38 L539.83 39.88 L540.51 40.40 L541.19 40.92 L541.87 41.46 L542.54 42.02 L543.22 42.60 L543.90 43.20 L544.58 43.83 L545.25 44.48 L545.93 45.15 L546.61 45.83 L547.29 46.54 L547.97 47.25 L548.64 47.98 L549.32 48.71 L550.00 49.44 L550.68 50.16 L551.35 50.86 L552.03 51.55 L552.71 52.23 L553.39 52.90 L554.06 53.58 L554.74 54.25 L555.42 54.92 L556.10 55.59 L556.77 56.27 L557.45 56.94 L558.13 57.61 L558.81 58.28 L559.48 58.95 L560.16 59.61 L560.84 60.28 L561.52 60.95 L562.20 61.62 L562.87 62.28 L563.55 62.95 L564.23 63.61 L564.91 64.28 L565.58 64.94 L566.26 65.61 L566.94 66.27 L567.62 66.93 L568.29 67.60 L568.97 68.26 L569.65 68.92 L570.33 69.58 L571.00 70.24 L571.68 70.90 L572.36 71.56 L573.04 72.22 L573.72 72.88 L574.39 73.54 L575.07 74.20 L575.75 74.86 L576.43 75.51 L577.10 76.17 L577.78 76.83 L578.46 77.49 L579.14 78.14 L579.81 78.80 L580.49 79.45 L581.17 80.11 L581.85 80.77 L582.52 81.42 L583.20 82.07 L583.88 82.73 L584.56 83.38 L585.23 84.04 L585.91 84.69 L586.59 85.34 L587.27 86.00 L587.95 86.65 L588.62 87.30 L589.30 87.96 L589.98 88.61 L590.66 89.26 L591.33 89.91 L592.01 90.57 L592.69 91.22 L593.37 91.87 L594.04 92.52 L594.72 93.17 L595.40 93.83 L596.08 94.48 L596.75 95.13 L597.43 95.78 L598.11 96.43 L598.79 97.08 L599.46 97.74 L600.14 98.39 L600.82 99.04 L601.50 99.69 L602.18 100.34 L602.85 101.00 L603.53 101.65 L604.21 102.30 L604.89 102.96 L605.56 103.61 L606.24 104.27 L606.92 104.92 L607.60 105.58 L608.27 106.24 L608.95 106.89 L609.63 107.55 L610.31 108.21 L610.98 108.87 L611.66 109.53 L612.34 110.19 L613.02 110.85 L613.69 111.52 L614.37 112.18 L615.05 112.85 L615.73 113.51 L616.41 114.18 L617.08 114.85 L617.76 115.52 L618.44 116.19 L619.12 116.86 L619.79 117.53 L620.47 118.21 L621.15 118.88 L621.83 119.56 L622.50 120.24 L623.18 120.92 L623.86 121.60 L624.54 122.28 L625.21 122.97 L625.89 123.65 L626.57 124.34 L627.25 125.03 L627.93 125.72 L628.60 126.42 L629.28 127.11 L629.96 127.81 L630.64 128.51 L631.31 129.21 L631.99 129.91 L632.67 130.61 L633.35 131.32 L634.02 132.03 L634.70 132.74 L635.38 133.45 L636.06 134.17 L636.73 134.88 L637.41 135.60 L638.09 136.33 L638.77 137.05 L639.44 137.78 L640.12 138.50 L640.80 139.24" stroke="#22e022" stroke-width="1.8"/><path d="M492.40 42.28 L492.97 38.76 L493.55 35.72 L494.12 33.10 L494.70 30.82 L495.27 28.84 L495.85 27.12 L496.42 25.62 L497.00 24.34 L497.57 23.26 L498.15 22.37 L498.72 21.64 L499.30 21.05 L499.87 20.60 L500.45 20.26 L501.02 20.02 L501.60 19.86 L502.17 19.76 L502.75 19.71 L503.32 19.69 L503.90 19.69 L504.47 19.70 L505.05 19.74 L505.62 19.78 L506.20 19.85 L506.77 19.93 L507.35 20.03 L507.92 20.15 L508.50 20.28 L509.07 20.42 L509.65 20.58 L510.22 20.76 L510.80 20.94 L511.37 21.14 L511.95 21.35 L512.52 21.58 L513.10 21.82 L513.67 22.06 L514.25 22.32 L514.82 22.59 L515.40 22.88 L515.97 23.17 L516.55 23.47 L517.12 23.77 L517.69 24.09 L518.27 24.42 L518.84 24.75 L519.42 25.09 L519.99 25.44 L520.57 25.80 L521.14 26.16 L521.72 26.52 L522.29 26.90 L522.87 27.27 L523.44 27.66 L524.02 28.04 L524.59 28.43 L525.17 28.83 L525.74 29.22 L526.32 29.62 L526.89 30.02 L527.47 30.43 L528.04 30.83 L528.62 31.24 L529.19 31.65 L529.77 32.06 L530.34 32.48 L530.92 32.90 L531.49 33.32 L532.07 33.74 L532.64 34.17 L533.22 34.60 L533.79 35.03 L534.37 35.46 L534.94 35.90 L535.52 36.34 L536.09 36.78 L536.67 37.23 L537.24 37.68 L537.82 38.13 L538.39 38.58 L538.97 39.04 L539.54 39.50 L540.12 39.97 L540.69 40.43 L541.27 40.90 L541.84 41.38 L542.42 41.86 L542.99 42.34 L543.56 42.82 L544.14 43.31 L544.71 43.80 L545.29 44.29 L545.86 44.79 L546.44 45.30 L547.01 45.80 L547.59 46.31 L548.16 46.82 L548.74 47.34 L549.31 47.86 L549.89 48.39 L550.46 48.92 L551.04 49.45 L551.61 49.99 L552.19 50.53 L552.76 51.07 L553.34 51.62 L553.91 52.17 L554.49 52.73 L555.06 53.29 L555.64 53.86 L556.21 54.43 L556.79 55.01 L557.36 55.59 L557.94 56.17 L558.51 56.76 L559.09 57.35 L559.66 57.95 L560.24 58.55 L560.81 59.16 L561.39 59.77 L561.96 60.38 L562.54 61.01 L563.11 61.63 L563.69 62.26 L564.26 62.90 L564.84 63.54 L565.41 64.19 L565.99 64.84 L566.56 65.49 L567.14 66.15 L567.71 66.82 L568.28 67.49 L568.86 68.17 L569.43 68.85 L570.01 69.54 L570.58 70.23 L571.16 70.93 L571.73 71.63 L572.31 72.34 L572.88 73.06 L573.46 73.78 L574.03 74.50 L574.61 75.23 L575.18 75.97 L575.76 76.72 L576.33 77.46 L576.91 78.22 L577.48 78.98 L578.06 79.75 L578.63 80.52 L579.21 81.30 L579.78 82.08 L580.36 82.87 L580.93 83.67 L581.51 84.47 L582.08 85.28 L582.66 86.10 L583.23 86.91 L583.81 87.74 L584.38 88.57 L584.96 89.40 L585.53 90.24 L586.11 91.09 L586.68 91.93 L587.26 92.79 L587.83 93.64 L588.41 94.50 L588.98 95.37 L589.56 96.24 L590.13 97.11 L590.71 97.98 L591.28 98.86 L591.86 99.74 L592.43 100.63 L593.01 101.51 L593.58 102.40 L594.15 103.29 L594.73 104.19 L595.30 105.09 L595.88 105.98 L596.45 106.88 L597.03 107.78 L597.60 108.69 L598.18 109.59 L598.75 110.50 L599.33 111.40 L599.90 112.31 L600.48 113.22 L601.05 114.13 L601.63 115.04 L602.20 115.95 L602.78 116.86 L603.35 117.77 L603.93 118.67 L604.50 119.58 L605.08 120.49 L605.65 121.40 L606.23 122.30 L606.80 123.21 L607.38 124.11 L607.95 125.02 L608.53 125.92 L609.10 126.82 L609.68 127.72 L610.25 128.61 L610.83 129.51 L611.40 130.40 L611.98 131.29 L612.55 132.17 L613.13 133.06 L613.70 133.94 L614.28 134.82 L614.85 135.69 L615.43 136.56 L616.00 137.43 L616.58 138.29 L617.15 139.15 L617.73 140.01 L618.30 140.86" stroke="#000" stroke-width="1.8"/></g><line x1="595" y1="5.0" x2="595" y2="140.4" stroke="#8a8a8a" stroke-width="1.5"/><text x="683.5" y="21.3" font-size="12.5" font-weight="bold" text-anchor="end">(c)</text><rect x="491.6" y="147.0" width="197.6" height="134.5" fill="#fff" stroke="#000" stroke-width="0.9"/><path d="M491.60 281.50v2.00M491.60 147.00v-2.00M497.25 281.50v1.10M497.25 147.00v-1.10M502.89 281.50v1.10M502.89 147.00v-1.10M508.54 281.50v1.10M508.54 147.00v-1.10M514.18 281.50v1.10M514.18 147.00v-1.10M519.83 281.50v2.00M519.83 147.00v-2.00M525.47 281.50v1.10M525.47 147.00v-1.10M531.12 281.50v1.10M531.12 147.00v-1.10M536.77 281.50v1.10M536.77 147.00v-1.10M542.41 281.50v1.10M542.41 147.00v-1.10M548.06 281.50v2.00M548.06 147.00v-2.00M553.70 281.50v1.10M553.70 147.00v-1.10M559.35 281.50v1.10M559.35 147.00v-1.10M564.99 281.50v1.10M564.99 147.00v-1.10M570.64 281.50v1.10M570.64 147.00v-1.10M576.29 281.50v2.00M576.29 147.00v-2.00M581.93 281.50v1.10M581.93 147.00v-1.10M587.58 281.50v1.10M587.58 147.00v-1.10M593.22 281.50v1.10M593.22 147.00v-1.10M598.87 281.50v1.10M598.87 147.00v-1.10M604.51 281.50v2.00M604.51 147.00v-2.00M610.16 281.50v1.10M610.16 147.00v-1.10M615.81 281.50v1.10M615.81 147.00v-1.10M621.45 281.50v1.10M621.45 147.00v-1.10M627.10 281.50v1.10M627.10 147.00v-1.10M632.74 281.50v2.00M632.74 147.00v-2.00M638.39 281.50v1.10M638.39 147.00v-1.10M644.03 281.50v1.10M644.03 147.00v-1.10M649.68 281.50v1.10M649.68 147.00v-1.10M655.33 281.50v1.10M655.33 147.00v-1.10M660.97 281.50v2.00M660.97 147.00v-2.00M666.62 281.50v1.10M666.62 147.00v-1.10M672.26 281.50v1.10M672.26 147.00v-1.10M677.91 281.50v1.10M677.91 147.00v-1.10M683.55 281.50v1.10M683.55 147.00v-1.10M689.20 281.50v2.00M689.20 147.00v-2.00M491.60 281.50h-2.20M689.20 281.50h2.20M491.60 263.90h-1.20M689.20 263.90h1.20M491.60 253.61h-1.20M689.20 253.61h1.20M491.60 246.31h-1.20M689.20 246.31h1.20M491.60 240.65h-1.20M689.20 240.65h1.20M491.60 236.02h-1.20M689.20 236.02h1.20M491.60 232.10h-1.20M689.20 232.10h1.20M491.60 228.71h-1.20M689.20 228.71h1.20M491.60 225.72h-1.20M689.20 225.72h1.20M491.60 223.05h-2.20M689.20 223.05h2.20M491.60 205.45h-1.20M689.20 205.45h1.20M491.60 195.16h-1.20M689.20 195.16h1.20M491.60 187.86h-1.20M689.20 187.86h1.20M491.60 182.20h-1.20M689.20 182.20h1.20M491.60 177.57h-1.20M689.20 177.57h1.20M491.60 173.65h-1.20M689.20 173.65h1.20M491.60 170.26h-1.20M689.20 170.26h1.20M491.60 167.27h-1.20M689.20 167.27h1.20M491.60 164.60h-2.20M689.20 164.60h2.20M491.60 147.00h-1.20M689.20 147.00h1.20" stroke="#000" stroke-width="0.7" fill="none"/><text x="489.6" y="167.9" font-size="8" font-weight="bold" stroke="#000" stroke-width="0.3" text-anchor="end">10<tspan font-size="5.6" stroke-width="0.15" dy="-4.2">−1</tspan></text><text x="489.6" y="226.4" font-size="8" font-weight="bold" stroke="#000" stroke-width="0.3" text-anchor="end">10<tspan font-size="5.6" stroke-width="0.15" dy="-4.2">−2</tspan></text><text x="489.6" y="284.8" font-size="8" font-weight="bold" stroke="#000" stroke-width="0.3" text-anchor="end">10<tspan font-size="5.6" stroke-width="0.15" dy="-4.2">−3</tspan></text><g fill="none" stroke-linejoin="round" stroke-linecap="butt"><path d="M492.40 188.20 L492.98 185.84 L493.57 183.29 L494.15 180.69 L494.73 178.16 L495.32 175.83 L495.90 173.83 L496.49 172.17 L497.07 170.81 L497.65 169.71 L498.24 168.83 L498.82 168.12 L499.40 167.53 L499.99 167.03 L500.57 166.59 L501.15 166.20 L501.74 165.86 L502.32 165.57 L502.91 165.32 L503.49 165.11 L504.07 164.95 L504.66 164.83 L505.24 164.74 L505.82 164.69 L506.41 164.66 L506.99 164.67 L507.57 164.71 L508.16 164.77 L508.74 164.86 L509.32 164.97 L509.91 165.10 L510.49 165.24 L511.08 165.40 L511.66 165.57 L512.24 165.75 L512.83 165.95 L513.41 166.15 L513.99 166.36 L514.58 166.58 L515.16 166.81 L515.74 167.04 L516.33 167.29 L516.91 167.54 L517.50 167.81 L518.08 168.08 L518.66 168.35 L519.25 168.64 L519.83 168.93 L520.41 169.23 L521.00 169.54 L521.58 169.85 L522.16 170.17 L522.75 170.49 L523.33 170.82 L523.92 171.16 L524.50 171.50 L525.08 171.85 L525.67 172.20 L526.25 172.56 L526.83 172.92 L527.42 173.28 L528.00 173.65 L528.58 174.03 L529.17 174.40 L529.75 174.78 L530.33 175.17 L530.92 175.56 L531.50 175.95 L532.09 176.34 L532.67 176.73 L533.25 177.13 L533.84 177.53 L534.42 177.93 L535.00 178.33 L535.59 178.74 L536.17 179.14 L536.75 179.55 L537.34 179.95 L537.92 180.36 L538.51 180.77 L539.09 181.18 L539.67 181.58 L540.26 181.99 L540.84 182.40 L541.42 182.81 L542.01 183.22 L542.59 183.64 L543.17 184.05 L543.76 184.46 L544.34 184.85 L544.93 185.23 L545.51 185.60 L546.09 185.94 L546.68 186.26 L547.26 186.56 L547.84 186.84 L548.43 187.12 L549.01 187.40 L549.59 187.68 L550.18 187.96 L550.76 188.25 L551.34 188.56 L551.93 188.87 L552.51 189.20 L553.10 189.54 L553.68 189.88 L554.26 190.23 L554.85 190.58 L555.43 190.95 L556.01 191.31 L556.60 191.69 L557.18 192.07 L557.76 192.45 L558.35 192.84 L558.93 193.23 L559.52 193.62 L560.10 194.02 L560.68 194.41 L561.27 194.81 L561.85 195.21 L562.43 195.61 L563.02 196.01 L563.60 196.41 L564.18 196.81 L564.77 197.22 L565.35 197.62 L565.94 198.03 L566.52 198.44 L567.10 198.85 L567.69 199.26 L568.27 199.67 L568.85 200.08 L569.44 200.49 L570.02 200.91 L570.60 201.33 L571.19 201.74 L571.77 202.16 L572.35 202.58 L572.94 203.00 L573.52 203.42 L574.11 203.85 L574.69 204.27 L575.27 204.69 L575.86 205.12 L576.44 205.55 L577.02 205.98 L577.61 206.41 L578.19 206.84 L578.77 207.27 L579.36 207.70 L579.94 208.13 L580.53 208.57 L581.11 209.01 L581.69 209.44 L582.28 209.88 L582.86 210.32 L583.44 210.76 L584.03 211.20 L584.61 211.64 L585.19 212.09 L585.78 212.53 L586.36 212.98 L586.95 213.42 L587.53 213.87 L588.11 214.32 L588.70 214.77 L589.28 215.22 L589.86 215.67 L590.45 216.12 L591.03 216.57 L591.61 217.03 L592.20 217.48 L592.78 217.94 L593.36 218.40 L593.95 218.85 L594.53 219.31 L595.12 219.77 L595.70 220.23 L596.28 220.69 L596.87 221.16 L597.45 221.62 L598.03 222.08 L598.62 222.55 L599.20 223.02 L599.78 223.48 L600.37 223.95 L600.95 224.42 L601.54 224.89 L602.12 225.36 L602.70 225.83 L603.29 226.30 L603.87 226.77 L604.45 227.25 L605.04 227.72 L605.62 228.20 L606.20 228.68 L606.79 229.15 L607.37 229.63 L607.96 230.11 L608.54 230.59 L609.12 231.07 L609.71 231.55 L610.29 232.03 L610.87 232.51 L611.46 233.00 L612.04 233.48 L612.62 233.97 L613.21 234.45 L613.79 234.94 L614.37 235.43 L614.96 235.91 L615.54 236.40 L616.13 236.85 L616.71 237.33 L617.29 237.87 L617.88 238.42 L618.46 238.91 L619.04 239.32 L619.63 239.63 L620.21 240.08 L620.79 240.62 L621.38 241.34 L621.96 241.97 L622.55 242.36 L623.13 242.66 L623.71 243.10 L624.30 243.57 L624.88 244.27 L625.46 245.04 L626.05 245.31 L626.63 245.50 L627.21 245.82 L627.80 246.33 L628.38 247.07 L628.97 248.10 L629.55 248.70 L630.13 248.77 L630.72 248.82 L631.30 249.37 L631.88 250.06 L632.47 251.13 L633.05 251.95 L633.63 252.12 L634.22 252.04 L634.80 252.36 L635.38 253.21 L635.97 254.21 L636.55 255.24 L637.14 255.76 L637.72 255.71 L638.30 255.78 L638.89 256.35 L639.47 257.57 L640.05 258.58 L640.64 259.19 L641.22 258.56 L641.80 258.86 L642.39 259.14 L642.97 260.13 L643.56 261.03 L644.14 261.82 L644.72 261.72 L645.31 261.76 L645.89 262.10 L646.47 263.31 L647.06 264.74 L647.64 265.57 L648.22 265.83 L648.81 265.67 L649.39 265.50 L649.98 266.15 L650.56 267.50 L651.14 268.47 L651.73 268.81 L652.31 268.91 L652.89 269.03 L653.48 269.21 L654.06 270.18 L654.64 271.39 L655.23 272.19 L655.81 271.67 L656.39 271.63 L656.98 272.07 L657.56 272.82 L658.15 274.06 L658.73 275.38 L659.31 275.52 L659.90 275.23 L660.48 275.16 L661.06 275.47 L661.65 276.84 L662.23 277.85 L662.81 278.64 L663.40 278.85 L663.98 279.04 L664.57 279.18 L665.15 279.99 L665.73 280.75 L666.32 281.50 L666.90 281.44" stroke="#1414d8" stroke-width="1.9"/><path d="M492.40 188.20 L493.20 184.89 L494.01 181.32 L494.81 177.83 L495.62 174.76 L496.42 172.34 L497.22 170.50 L498.03 169.12 L498.83 168.10 L499.64 167.33 L500.44 166.69 L501.25 166.14 L502.05 165.70 L502.85 165.34 L503.66 165.06 L504.46 164.86 L505.27 164.74 L506.07 164.67 L506.87 164.67 L507.68 164.72 L508.48 164.82 L509.29 164.96 L510.09 165.14 L510.89 165.35 L511.70 165.58 L512.50 165.84 L513.31 166.11 L514.11 166.40 L514.92 166.71 L515.72 167.03 L516.52 167.37 L517.33 167.73 L518.13 168.10 L518.94 168.49 L519.74 168.89 L520.54 169.30 L521.35 169.72 L522.15 170.16 L522.96 170.61 L523.76 171.07 L524.56 171.54 L525.37 172.02 L526.17 172.51 L526.98 173.01 L527.78 173.51 L528.58 174.03 L529.39 174.55 L530.19 175.07 L531.00 175.61 L531.80 176.15 L532.61 176.69 L533.41 177.24 L534.21 177.79 L535.02 178.34 L535.82 178.90 L536.63 179.46 L537.43 180.02 L538.23 180.58 L539.04 181.14 L539.84 181.70 L540.65 182.26 L541.45 182.82 L542.25 183.40 L543.06 183.97 L543.86 184.53 L544.67 185.07 L545.47 185.58 L546.28 186.04 L547.08 186.47 L547.88 186.86 L548.69 187.25 L549.49 187.63 L550.30 188.02 L551.10 188.43 L551.90 188.86 L552.71 189.31 L553.51 189.78 L554.32 190.26 L555.12 190.75 L555.92 191.26 L556.73 191.77 L557.53 192.30 L558.34 192.83 L559.14 193.37 L559.95 193.92 L560.75 194.46 L561.55 195.00 L562.36 195.55 L563.16 196.09 L563.97 196.64 L564.77 197.19 L565.57 197.73 L566.38 198.28 L567.18 198.83 L567.99 199.38 L568.79 199.93 L569.59 200.48 L570.40 201.04 L571.20 201.59 L572.01 202.14 L572.81 202.70 L573.62 203.26 L574.42 203.82 L575.22 204.38 L576.03 204.94 L576.83 205.50 L577.64 206.06 L578.44 206.63 L579.24 207.20 L580.05 207.77 L580.85 208.34 L581.66 208.91 L582.46 209.49 L583.26 210.06 L584.07 210.64 L584.87 211.22 L585.68 211.81 L586.48 212.40 L587.28 212.98 L588.09 213.58 L588.89 214.17 L589.70 214.77 L590.50 215.37 L591.31 215.97 L592.11 216.57 L592.91 217.18 L593.72 217.79 L594.52 218.41 L595.33 219.03 L596.13 219.65 L596.93 220.28 L597.74 220.90 L598.54 221.54 L599.35 222.17 L600.15 222.82 L600.95 223.46 L601.76 224.10 L602.56 224.75 L603.37 225.40 L604.17 226.05 L604.98 226.70 L605.78 227.35 L606.58 228.01 L607.39 228.66 L608.19 229.32 L609.00 229.98 L609.80 230.64 L610.60 231.30 L611.41 231.96 L612.21 232.63 L613.02 233.30 L613.82 233.96 L614.62 234.63 L615.43 235.30 L616.23 235.98 L617.04 236.65 L617.84 237.33 L618.65 238.00 L619.45 238.68 L620.25 239.36 L621.06 240.04 L621.86 240.72 L622.67 241.40 L623.47 242.09 L624.27 242.77 L625.08 243.46 L625.88 244.15 L626.69 244.84 L627.49 245.53 L628.29 246.22 L629.10 246.91 L629.90 247.61 L630.71 248.30 L631.51 249.00 L632.32 249.70 L633.12 250.39 L633.92 251.09 L634.73 251.79 L635.53 252.50 L636.34 253.20 L637.14 253.90 L637.94 254.61 L638.75 255.31 L639.55 256.02 L640.36 256.73 L641.16 257.44 L641.96 258.15 L642.77 258.86 L643.57 259.57 L644.38 260.28 L645.18 260.99 L645.98 261.71 L646.79 262.42 L647.59 263.14 L648.40 263.86 L649.20 264.57 L650.01 265.29 L650.81 266.01 L651.61 266.73 L652.42 267.45 L653.22 268.17 L654.03 268.90 L654.83 269.62 L655.63 270.34 L656.44 271.07 L657.24 271.79 L658.05 272.52 L658.85 273.24 L659.65 273.97 L660.46 274.70 L661.26 275.43 L662.07 276.15 L662.87 276.88 L663.68 277.61 L664.48 278.34 L665.28 279.07 L666.09 279.81 L666.89 280.54 L667.70 281.27 L668.50 282.00" stroke="#e01010" stroke-width="1.4" stroke-dasharray="2.5,2"/><path d="M492.40 188.50 L493.14 185.47 L493.88 182.21 L494.62 178.96 L495.36 175.99 L496.09 173.54 L496.83 171.63 L497.57 170.15 L498.31 169.03 L499.05 168.17 L499.79 167.50 L500.53 166.92 L501.27 166.43 L502.00 166.02 L502.74 165.68 L503.48 165.41 L504.22 165.21 L504.96 165.07 L505.70 164.99 L506.44 164.96 L507.18 164.98 L507.92 165.04 L508.65 165.14 L509.39 165.28 L510.13 165.45 L510.87 165.64 L511.61 165.85 L512.35 166.09 L513.09 166.33 L513.83 166.59 L514.56 166.87 L515.30 167.16 L516.04 167.47 L516.78 167.78 L517.52 168.12 L518.26 168.46 L519.00 168.82 L519.74 169.18 L520.47 169.56 L521.21 169.95 L521.95 170.35 L522.69 170.76 L523.43 171.18 L524.17 171.60 L524.91 172.04 L525.65 172.49 L526.39 172.94 L527.12 173.40 L527.86 173.86 L528.60 174.34 L529.34 174.81 L530.08 175.30 L530.82 175.79 L531.56 176.28 L532.30 176.78 L533.03 177.28 L533.77 177.78 L534.51 178.29 L535.25 178.80 L535.99 179.31 L536.73 179.83 L537.47 180.34 L538.21 180.86 L538.95 181.37 L539.68 181.89 L540.42 182.40 L541.16 182.92 L541.90 183.44 L542.64 183.95 L543.38 184.46 L544.12 184.96 L544.86 185.44 L545.59 185.89 L546.33 186.32 L547.07 186.73 L547.81 187.12 L548.55 187.51 L549.29 187.90 L550.03 188.30 L550.77 188.71 L551.51 189.14 L552.24 189.60 L552.98 190.06 L553.72 190.54 L554.46 191.02 L555.20 191.52 L555.94 192.02 L556.68 192.53 L557.42 193.05 L558.15 193.57 L558.89 194.10 L559.63 194.63 L560.37 195.15 L561.11 195.68 L561.85 196.21 L562.59 196.74 L563.33 197.28 L564.06 197.81 L564.80 198.35 L565.54 198.89 L566.28 199.43 L567.02 199.97 L567.76 200.52 L568.50 201.07 L569.24 201.62 L569.98 202.17 L570.71 202.72 L571.45 203.28 L572.19 203.83 L572.93 204.39 L573.67 204.96 L574.41 205.52 L575.15 206.09 L575.89 206.66 L576.62 207.23 L577.36 207.80 L578.10 208.38 L578.84 208.95 L579.58 209.53 L580.32 210.11 L581.06 210.70 L581.80 211.28 L582.54 211.87 L583.27 212.46 L584.01 213.06 L584.75 213.65 L585.49 214.25 L586.23 214.85 L586.97 215.45 L587.71 216.06 L588.45 216.67 L589.18 217.28 L589.92 217.89 L590.66 218.50 L591.40 219.12 L592.14 219.74 L592.88 220.36 L593.62 220.98 L594.36 221.61 L595.09 222.24 L595.83 222.87 L596.57 223.51 L597.31 224.14 L598.05 224.78 L598.79 225.42 L599.53 226.07 L600.27 226.71 L601.01 227.36 L601.74 228.02 L602.48 228.67 L603.22 229.33 L603.96 229.99 L604.70 230.65 L605.44 231.32 L606.18 231.98 L606.92 232.65 L607.65 233.33 L608.39 234.00 L609.13 234.68 L609.87 235.36 L610.61 236.05 L611.35 236.73 L612.09 237.42 L612.83 238.12 L613.57 238.81 L614.30 239.51 L615.04 240.21 L615.78 240.91 L616.52 241.62 L617.26 242.33 L618.00 243.04 L618.74 243.76 L619.48 244.47 L620.21 245.19 L620.95 245.92 L621.69 246.64 L622.43 247.37 L623.17 248.11 L623.91 248.84 L624.65 249.58 L625.39 250.32 L626.13 251.07 L626.86 251.81 L627.60 252.56 L628.34 253.32 L629.08 254.07 L629.82 254.83 L630.56 255.60 L631.30 256.36 L632.04 257.13 L632.77 257.90 L633.51 258.68 L634.25 259.46 L634.99 260.24 L635.73 261.02 L636.47 261.81 L637.21 262.60 L637.95 263.39 L638.68 264.19 L639.42 264.99 L640.16 265.79 L640.90 266.60 L641.64 267.41 L642.38 268.22 L643.12 269.04 L643.86 269.86 L644.60 270.68 L645.33 271.51 L646.07 272.34 L646.81 273.17 L647.55 274.01 L648.29 274.85 L649.03 275.69 L649.77 276.54 L650.51 277.39 L651.24 278.24 L651.98 279.10 L652.72 279.96 L653.46 280.82 L654.20 281.69" stroke="#f01818" stroke-width="1.8"/><path d="M492.40 187.07 L493.09 183.83 L493.78 180.64 L494.47 177.63 L495.17 174.90 L495.86 172.57 L496.55 170.67 L497.24 169.16 L497.93 167.97 L498.62 167.04 L499.31 166.32 L500.00 165.75 L500.70 165.28 L501.39 164.90 L502.08 164.60 L502.77 164.37 L503.46 164.20 L504.15 164.07 L504.84 163.98 L505.54 163.94 L506.23 163.94 L506.92 163.97 L507.61 164.04 L508.30 164.14 L508.99 164.27 L509.68 164.43 L510.37 164.61 L511.07 164.81 L511.76 165.03 L512.45 165.26 L513.14 165.51 L513.83 165.77 L514.52 166.05 L515.21 166.34 L515.91 166.64 L516.60 166.96 L517.29 167.28 L517.98 167.62 L518.67 167.97 L519.36 168.33 L520.05 168.70 L520.74 169.08 L521.44 169.47 L522.13 169.87 L522.82 170.27 L523.51 170.69 L524.20 171.11 L524.89 171.54 L525.58 171.97 L526.27 172.41 L526.97 172.85 L527.66 173.30 L528.35 173.76 L529.04 174.22 L529.73 174.68 L530.42 175.15 L531.11 175.62 L531.81 176.10 L532.50 176.58 L533.19 177.06 L533.88 177.55 L534.57 178.04 L535.26 178.53 L535.95 179.03 L536.64 179.52 L537.34 180.02 L538.03 180.52 L538.72 181.02 L539.41 181.51 L540.10 182.00 L540.79 182.49 L541.48 182.98 L542.18 183.48 L542.87 183.99 L543.56 184.51 L544.25 185.04 L544.94 185.58 L545.63 186.13 L546.32 186.68 L547.01 187.25 L547.71 187.82 L548.40 188.40 L549.09 188.98 L549.78 189.56 L550.47 190.13 L551.16 190.70 L551.85 191.25 L552.55 191.80 L553.24 192.35 L553.93 192.90 L554.62 193.44 L555.31 193.98 L556.00 194.53 L556.69 195.07 L557.38 195.62 L558.08 196.16 L558.77 196.71 L559.46 197.27 L560.15 197.82 L560.84 198.38 L561.53 198.95 L562.22 199.52 L562.92 200.10 L563.61 200.68 L564.30 201.27 L564.99 201.86 L565.68 202.46 L566.37 203.06 L567.06 203.66 L567.75 204.26 L568.45 204.87 L569.14 205.48 L569.83 206.09 L570.52 206.70 L571.21 207.31 L571.90 207.92 L572.59 208.54 L573.28 209.16 L573.98 209.78 L574.67 210.40 L575.36 211.02 L576.05 211.64 L576.74 212.27 L577.43 212.90 L578.12 213.53 L578.82 214.16 L579.51 214.79 L580.20 215.43 L580.89 216.06 L581.58 216.70 L582.27 217.34 L582.96 217.98 L583.65 218.63 L584.35 219.27 L585.04 219.92 L585.73 220.57 L586.42 221.22 L587.11 221.87 L587.80 222.52 L588.49 223.18 L589.19 223.83 L589.88 224.49 L590.57 225.15 L591.26 225.81 L591.95 226.48 L592.64 227.14 L593.33 227.81 L594.02 228.48 L594.72 229.15 L595.41 229.82 L596.10 230.49 L596.79 231.17 L597.48 231.85 L598.17 232.52 L598.86 233.20 L599.56 233.89 L600.25 234.57 L600.94 235.26 L601.63 235.94 L602.32 236.63 L603.01 237.32 L603.70 238.01 L604.39 238.71 L605.09 239.40 L605.78 240.10 L606.47 240.80 L607.16 241.50 L607.85 242.20 L608.54 242.90 L609.23 243.61 L609.93 244.31 L610.62 245.02 L611.31 245.73 L612.00 246.44 L612.69 247.16 L613.38 247.87 L614.07 248.59 L614.76 249.30 L615.46 250.02 L616.15 250.74 L616.84 251.47 L617.53 252.19 L618.22 252.92 L618.91 253.65 L619.60 254.37 L620.29 255.11 L620.99 255.84 L621.68 256.57 L622.37 257.31 L623.06 258.05 L623.75 258.78 L624.44 259.52 L625.13 260.27 L625.83 261.01 L626.52 261.76 L627.21 262.50 L627.90 263.25 L628.59 264.00 L629.28 264.75 L629.97 265.50 L630.66 266.26 L631.36 267.02 L632.05 267.77 L632.74 268.53 L633.43 269.29 L634.12 270.06 L634.81 270.82 L635.50 271.59 L636.20 272.35 L636.89 273.12 L637.58 273.89 L638.27 274.66 L638.96 275.44 L639.65 276.21 L640.34 276.99 L641.03 277.77 L641.73 278.55 L642.42 279.33 L643.11 280.11 L643.80 280.90" stroke="#22e022" stroke-width="1.7" stroke-dasharray="3,2"/><path d="M492.40 185.64 L493.07 182.10 L493.73 178.89 L494.40 176.00 L495.06 173.44 L495.73 171.24 L496.39 169.41 L497.06 167.91 L497.73 166.69 L498.39 165.73 L499.06 164.97 L499.72 164.38 L500.39 163.93 L501.05 163.59 L501.72 163.33 L502.39 163.15 L503.05 163.03 L503.72 162.94 L504.38 162.89 L505.05 162.87 L505.72 162.88 L506.38 162.92 L507.05 162.99 L507.71 163.09 L508.38 163.21 L509.04 163.36 L509.71 163.52 L510.38 163.71 L511.04 163.92 L511.71 164.14 L512.37 164.38 L513.04 164.63 L513.70 164.90 L514.37 165.18 L515.04 165.47 L515.70 165.78 L516.37 166.10 L517.03 166.43 L517.70 166.77 L518.36 167.12 L519.03 167.49 L519.70 167.86 L520.36 168.24 L521.03 168.63 L521.69 169.03 L522.36 169.43 L523.02 169.85 L523.69 170.27 L524.36 170.69 L525.02 171.12 L525.69 171.56 L526.35 172.00 L527.02 172.44 L527.68 172.89 L528.35 173.34 L529.02 173.80 L529.68 174.26 L530.35 174.72 L531.01 175.19 L531.68 175.66 L532.35 176.14 L533.01 176.61 L533.68 177.09 L534.34 177.58 L535.01 178.07 L535.67 178.56 L536.34 179.05 L537.01 179.54 L537.67 180.04 L538.34 180.54 L539.00 181.04 L539.67 181.53 L540.33 182.03 L541.00 182.54 L541.67 183.06 L542.33 183.60 L543.00 184.16 L543.66 184.74 L544.33 185.34 L544.99 185.97 L545.66 186.61 L546.33 187.27 L546.99 187.94 L547.66 188.62 L548.32 189.30 L548.99 189.97 L549.65 190.62 L550.32 191.27 L550.99 191.89 L551.65 192.48 L552.32 193.05 L552.98 193.61 L553.65 194.16 L554.32 194.70 L554.98 195.24 L555.65 195.77 L556.31 196.31 L556.98 196.84 L557.64 197.37 L558.31 197.90 L558.98 198.44 L559.64 198.98 L560.31 199.53 L560.97 200.09 L561.64 200.66 L562.30 201.25 L562.97 201.84 L563.64 202.45 L564.30 203.08 L564.97 203.72 L565.63 204.38 L566.30 205.04 L566.96 205.70 L567.63 206.36 L568.30 207.03 L568.96 207.70 L569.63 208.38 L570.29 209.05 L570.96 209.73 L571.62 210.41 L572.29 211.10 L572.96 211.78 L573.62 212.47 L574.29 213.17 L574.95 213.86 L575.62 214.56 L576.28 215.26 L576.95 215.96 L577.62 216.66 L578.28 217.36 L578.95 218.07 L579.61 218.78 L580.28 219.49 L580.95 220.20 L581.61 220.92 L582.28 221.63 L582.94 222.35 L583.61 223.07 L584.27 223.79 L584.94 224.51 L585.61 225.24 L586.27 225.96 L586.94 226.69 L587.60 227.42 L588.27 228.14 L588.93 228.87 L589.60 229.60 L590.27 230.33 L590.93 231.07 L591.60 231.80 L592.26 232.53 L592.93 233.27 L593.59 234.00 L594.26 234.74 L594.93 235.48 L595.59 236.21 L596.26 236.95 L596.92 237.69 L597.59 238.42 L598.25 239.16 L598.92 239.90 L599.59 240.64 L600.25 241.38 L600.92 242.11 L601.58 242.85 L602.25 243.59 L602.92 244.33 L603.58 245.06 L604.25 245.80 L604.91 246.54 L605.58 247.27 L606.24 248.01 L606.91 248.74 L607.58 249.48 L608.24 250.21 L608.91 250.94 L609.57 251.67 L610.24 252.41 L610.90 253.13 L611.57 253.86 L612.24 254.59 L612.90 255.32 L613.57 256.04 L614.23 256.77 L614.90 257.49 L615.56 258.21 L616.23 258.93 L616.90 259.65 L617.56 260.36 L618.23 261.08 L618.89 261.79 L619.56 262.50 L620.22 263.21 L620.89 263.92 L621.56 264.63 L622.22 265.33 L622.89 266.03 L623.55 266.73 L624.22 267.43 L624.88 268.12 L625.55 268.82 L626.22 269.51 L626.88 270.19 L627.55 270.88 L628.21 271.56 L628.88 272.24 L629.55 272.92 L630.21 273.59 L630.88 274.26 L631.54 274.93 L632.21 275.60 L632.87 276.26 L633.54 276.92 L634.21 277.58 L634.87 278.23 L635.54 278.88 L636.20 279.52 L636.87 280.17 L637.53 280.81 L638.20 281.44" stroke="#22e022" stroke-width="1.8"/><path d="M492.40 184.03 L492.97 180.54 L493.55 177.52 L494.12 174.91 L494.70 172.65 L495.27 170.69 L495.85 168.97 L496.42 167.49 L497.00 166.22 L497.57 165.14 L498.15 164.25 L498.72 163.53 L499.30 162.95 L499.87 162.50 L500.45 162.16 L501.02 161.92 L501.60 161.76 L502.17 161.67 L502.75 161.62 L503.32 161.59 L503.90 161.59 L504.47 161.61 L505.05 161.64 L505.62 161.69 L506.20 161.75 L506.77 161.84 L507.35 161.93 L507.92 162.05 L508.50 162.18 L509.07 162.32 L509.65 162.48 L510.22 162.65 L510.80 162.84 L511.37 163.04 L511.95 163.25 L512.52 163.47 L513.10 163.71 L513.67 163.95 L514.25 164.21 L514.82 164.48 L515.40 164.76 L515.97 165.05 L516.55 165.34 L517.12 165.65 L517.69 165.97 L518.27 166.29 L518.84 166.62 L519.42 166.96 L519.99 167.31 L520.57 167.66 L521.14 168.02 L521.72 168.38 L522.29 168.75 L522.87 169.13 L523.44 169.51 L524.02 169.89 L524.59 170.28 L525.17 170.67 L525.74 171.06 L526.32 171.46 L526.89 171.86 L527.47 172.26 L528.04 172.66 L528.62 173.07 L529.19 173.48 L529.77 173.89 L530.34 174.30 L530.92 174.71 L531.49 175.13 L532.07 175.55 L532.64 175.98 L533.22 176.40 L533.79 176.83 L534.37 177.26 L534.94 177.69 L535.52 178.13 L536.09 178.57 L536.67 179.01 L537.24 179.46 L537.82 179.91 L538.39 180.36 L538.97 180.82 L539.54 181.27 L540.12 181.73 L540.69 182.20 L541.27 182.67 L541.84 183.14 L542.42 183.61 L542.99 184.09 L543.56 184.57 L544.14 185.06 L544.71 185.54 L545.29 186.04 L545.86 186.53 L546.44 187.03 L547.01 187.53 L547.59 188.04 L548.16 188.55 L548.74 189.06 L549.31 189.58 L549.89 190.10 L550.46 190.63 L551.04 191.16 L551.61 191.69 L552.19 192.23 L552.76 192.77 L553.34 193.31 L553.91 193.86 L554.49 194.42 L555.06 194.98 L555.64 195.54 L556.21 196.10 L556.79 196.68 L557.36 197.25 L557.94 197.83 L558.51 198.42 L559.09 199.00 L559.66 199.60 L560.24 200.20 L560.81 200.80 L561.39 201.41 L561.96 202.02 L562.54 202.64 L563.11 203.26 L563.69 203.89 L564.26 204.52 L564.84 205.15 L565.41 205.79 L565.99 206.44 L566.56 207.09 L567.14 207.75 L567.71 208.41 L568.28 209.08 L568.86 209.75 L569.43 210.43 L570.01 211.11 L570.58 211.80 L571.16 212.49 L571.73 213.19 L572.31 213.90 L572.88 214.61 L573.46 215.32 L574.03 216.04 L574.61 216.77 L575.18 217.50 L575.76 218.24 L576.33 218.99 L576.91 219.74 L577.48 220.49 L578.06 221.25 L578.63 222.02 L579.21 222.79 L579.78 223.57 L580.36 224.36 L580.93 225.15 L581.51 225.95 L582.08 226.75 L582.66 227.56 L583.23 228.37 L583.81 229.19 L584.38 230.02 L584.96 230.85 L585.53 231.68 L586.11 232.52 L586.68 233.36 L587.26 234.21 L587.83 235.06 L588.41 235.91 L588.98 236.77 L589.56 237.63 L590.13 238.50 L590.71 239.37 L591.28 240.24 L591.86 241.12 L592.43 242.00 L593.01 242.88 L593.58 243.76 L594.15 244.65 L594.73 245.53 L595.30 246.42 L595.88 247.32 L596.45 248.21 L597.03 249.11 L597.60 250.00 L598.18 250.90 L598.75 251.80 L599.33 252.70 L599.90 253.60 L600.48 254.51 L601.05 255.41 L601.63 256.31 L602.20 257.21 L602.78 258.12 L603.35 259.02 L603.93 259.92 L604.50 260.83 L605.08 261.73 L605.65 262.63 L606.23 263.53 L606.80 264.43 L607.38 265.33 L607.95 266.23 L608.53 267.12 L609.10 268.01 L609.68 268.91 L610.25 269.80 L610.83 270.68 L611.40 271.57 L611.98 272.45 L612.55 273.33 L613.13 274.21 L613.70 275.09 L614.28 275.96 L614.85 276.83 L615.43 277.69 L616.00 278.56 L616.58 279.41 L617.15 280.27 L617.73 281.12 L618.30 281.97" stroke="#000" stroke-width="1.8"/></g><line x1="595" y1="147.0" x2="595" y2="281.5" stroke="#8a8a8a" stroke-width="1.5"/><text x="683.5" y="163.3" font-size="12.5" font-weight="bold" text-anchor="end">(f)</text><text x="491.6" y="292.8" font-size="7.8" font-weight="bold" stroke="#000" stroke-width="0.3" text-anchor="middle">0</text><text x="519.8" y="292.8" font-size="7.8" font-weight="bold" stroke="#000" stroke-width="0.3" text-anchor="middle">5</text><text x="548.1" y="292.8" font-size="7.8" font-weight="bold" stroke="#000" stroke-width="0.3" text-anchor="middle">10</text><text x="576.3" y="292.8" font-size="7.8" font-weight="bold" stroke="#000" stroke-width="0.3" text-anchor="middle">15</text><text x="604.5" y="292.8" font-size="7.8" font-weight="bold" stroke="#000" stroke-width="0.3" text-anchor="middle">20</text><text x="632.7" y="292.8" font-size="7.8" font-weight="bold" stroke="#000" stroke-width="0.3" text-anchor="middle">25</text><text x="661.0" y="292.8" font-size="7.8" font-weight="bold" stroke="#000" stroke-width="0.3" text-anchor="middle">30</text><text x="689.2" y="292.8" font-size="7.8" font-weight="bold" stroke="#000" stroke-width="0.3" text-anchor="middle">35</text><text x="567.8" y="304.5" font-size="10.8" xml:space="preserve"><tspan class="i" font-size="12">ε</tspan><tspan class="i" font-size="8.5" dy="2">k</tspan><tspan dy="-2">  (keV)</tspan></text><text transform="translate(468.9 71.0) rotate(-90)" font-size="11.4" text-anchor="middle"><tspan class="i">f</tspan><tspan font-size="7" dy="2">a</tspan><tspan dy="-2">(</tspan><tspan class="i">ρ, ε</tspan><tspan class="i" font-size="7" dy="2">k</tspan><tspan dy="-2">) [a.u.]</tspan></text><text transform="translate(468.9 211.5) rotate(-90)" font-size="11.4" text-anchor="middle"><tspan class="i">f</tspan><tspan font-size="7" dy="2">a</tspan><tspan dy="-2">(</tspan><tspan class="i">ρ, ε</tspan><tspan class="i" font-size="7" dy="2">k</tspan><tspan dy="-2">) [a.u.]</tspan></text><line x1="620" y1="21.4" x2="598.6" y2="21.4" stroke="#000" stroke-width="1" marker-end="url(#ah)"/><text x="624.8" y="24" font-size="12"><tspan class="i">ϵ</tspan><tspan font-size="10.5" dy="2">Gp</tspan></text><line x1="563.5" y1="123.3" x2="603.9" y2="123.3" stroke="#000" stroke-width="1" marker-end="url(#ah)"/><text x="523" y="127" font-size="15" letter-spacing="0.3"><tspan class="i">f</tspan><tspan class="i" font-size="11" dy="2">K</tspan><tspan dy="-2">(</tspan><tspan class="i" font-size="16">ε</tspan><tspan class="i" font-size="11" dy="2.5">k</tspan><tspan dy="-2.5">)</tspan></text></svg></body></html>
